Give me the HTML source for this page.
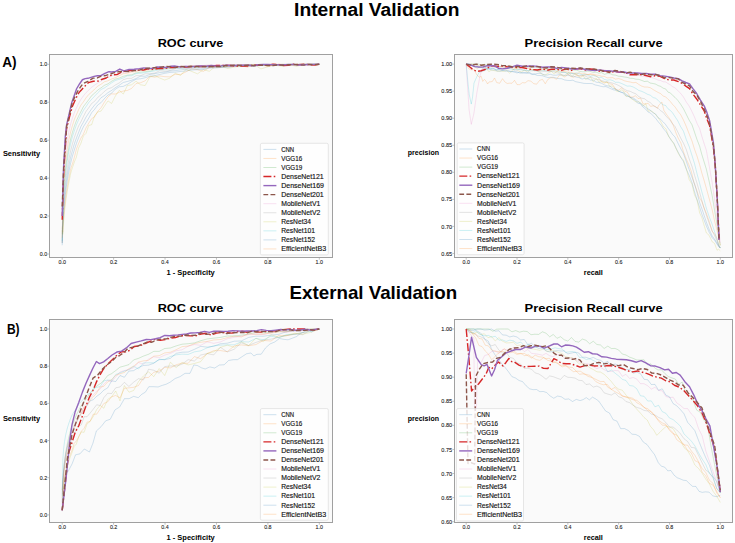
<!DOCTYPE html>
<html><head><meta charset="utf-8"><style>
html,body{margin:0;padding:0;background:#fff;}
body{width:735px;height:543px;overflow:hidden;font-family:"Liberation Sans",sans-serif;}
svg{display:block;}
</style></head><body>
<svg width="735" height="543" viewBox="0 0 735 543">
<rect width="735" height="543" fill="#ffffff"/>
<text x="294.10" y="15.80" font-family="Liberation Sans" font-size="18.8" font-weight="bold" text-anchor="start" fill="#000" textLength="165.5" lengthAdjust="spacingAndGlyphs">Internal Validation</text>
<text x="289.60" y="299.40" font-family="Liberation Sans" font-size="18.2" font-weight="bold" text-anchor="start" fill="#000" textLength="167.6" lengthAdjust="spacingAndGlyphs">External Validation</text>
<text x="2.20" y="66.50" font-family="Liberation Sans" font-size="14.2" font-weight="bold" text-anchor="start" fill="#000" textLength="14.4" lengthAdjust="spacingAndGlyphs">A)</text>
<text x="6.90" y="333.80" font-family="Liberation Sans" font-size="14.8" font-weight="bold" text-anchor="start" fill="#000" textLength="12.7" lengthAdjust="spacingAndGlyphs">B)</text>
<defs>
<clipPath id="c_roc1"><rect x="49.5" y="54.5" width="283.0" height="203.0"/></clipPath>
<clipPath id="c_pr1"><rect x="454.5" y="54.5" width="278.0" height="203.0"/></clipPath>
<clipPath id="c_roc2"><rect x="49.5" y="319.5" width="283.0" height="203.0"/></clipPath>
<clipPath id="c_pr2"><rect x="454.5" y="319.5" width="278.0" height="203.0"/></clipPath>
</defs>
<rect x="49.5" y="54.5" width="283.0" height="203.0" fill="#fafafa"/>
<rect x="454.5" y="54.5" width="278.0" height="203.0" fill="#fafafa"/>
<rect x="49.5" y="319.5" width="283.0" height="203.0" fill="#fafafa"/>
<rect x="454.5" y="319.5" width="278.0" height="203.0" fill="#fafafa"/>
<text x="157.70" y="47.40" font-family="Liberation Sans" font-size="11.0" font-weight="bold" text-anchor="start" fill="#000" textLength="65.6" lengthAdjust="spacingAndGlyphs">ROC curve</text>
<text x="524.50" y="47.40" font-family="Liberation Sans" font-size="11.0" font-weight="bold" text-anchor="start" fill="#000" textLength="138.2" lengthAdjust="spacingAndGlyphs">Precision Recall curve</text>
<text x="157.70" y="312.00" font-family="Liberation Sans" font-size="11.0" font-weight="bold" text-anchor="start" fill="#000" textLength="65.6" lengthAdjust="spacingAndGlyphs">ROC curve</text>
<text x="524.50" y="312.00" font-family="Liberation Sans" font-size="11.0" font-weight="bold" text-anchor="start" fill="#000" textLength="138.2" lengthAdjust="spacingAndGlyphs">Precision Recall curve</text>
<polyline points="62.20,245.25 62.76,228.87 63.37,217.13 64.16,206.33 65.13,196.37 66.27,187.16 67.58,178.63 69.04,170.68 70.65,163.07 72.42,156.12 74.33,149.90 76.39,143.55 78.59,137.77 80.93,132.07 83.40,126.72 86.01,122.65 88.76,118.18 91.64,112.73 94.65,109.25 97.79,104.91 101.05,102.67 104.45,98.59 107.97,94.99 111.61,93.16 115.38,89.07 119.27,86.80 123.28,86.36 127.41,84.36 131.66,81.59 136.03,79.25 140.52,78.78 145.13,77.74 149.85,76.20 154.69,75.77 159.64,74.49 164.71,73.30 169.89,72.44 175.19,72.11 180.60,71.47 186.12,70.88 191.75,70.00 197.49,69.70 203.35,69.54 209.31,68.08 215.38,67.98 221.57,67.48 227.86,67.60 234.25,66.39 240.76,66.21 247.37,66.62 254.09,66.12 260.92,65.51 267.85,65.28 274.89,64.89 282.03,65.07 289.27,64.62 296.63,64.57 304.08,64.62 311.64,64.40 319.30,64.30" fill="none" stroke="#1f77b4" stroke-width="0.9" stroke-opacity="0.22" stroke-linejoin="round" clip-path="url(#c_roc1)"/>
<polyline points="62.20,226.55 62.76,232.26 63.37,221.54 64.16,211.47 65.13,202.05 66.27,193.23 67.58,184.97 69.04,177.20 70.65,169.05 72.42,163.91 74.33,157.45 76.39,149.22 78.59,143.53 80.93,138.10 83.40,134.19 86.01,127.92 88.76,123.12 91.64,118.71 94.65,116.81 97.79,111.30 101.05,107.81 104.45,102.09 107.97,96.77 111.61,93.87 115.38,94.09 119.27,92.22 123.28,91.07 127.41,90.44 131.66,88.37 136.03,83.52 140.52,82.77 145.13,80.81 149.85,76.26 154.69,77.24 159.64,75.90 164.71,76.69 169.89,76.87 175.19,74.32 180.60,74.48 186.12,71.80 191.75,68.72 197.49,69.69 203.35,71.38 209.31,67.57 215.38,67.51 221.57,67.31 227.86,66.18 234.25,66.36 240.76,65.90 247.37,67.10 254.09,64.62 260.92,64.44 267.85,66.62 274.89,64.63 282.03,64.54 289.27,64.97 296.63,64.63 304.08,64.54 311.64,64.39 319.30,64.30" fill="none" stroke="#ff7f0e" stroke-width="0.9" stroke-opacity="0.22" stroke-linejoin="round" clip-path="url(#c_roc1)"/>
<polyline points="62.20,242.89 62.76,213.27 63.37,197.95 64.16,184.82 65.13,173.37 66.27,163.27 67.58,154.30 69.04,146.25 70.65,138.96 72.42,132.43 74.33,126.31 76.39,120.79 78.59,116.11 80.93,111.56 83.40,106.69 86.01,103.26 88.76,99.71 91.64,95.65 94.65,93.16 97.79,89.96 101.05,87.84 104.45,85.30 107.97,83.84 111.61,81.24 115.38,79.16 119.27,78.07 123.28,76.34 127.41,75.15 131.66,74.76 136.03,72.86 140.52,72.13 145.13,71.63 149.85,71.17 154.69,69.60 159.64,69.42 164.71,68.64 169.89,68.01 175.19,67.75 180.60,67.18 186.12,67.29 191.75,66.62 197.49,66.62 203.35,65.97 209.31,65.77 215.38,66.11 221.57,65.86 227.86,65.61 234.25,64.97 240.76,65.14 247.37,64.89 254.09,64.94 260.92,64.73 267.85,64.69 274.89,64.62 282.03,64.45 289.27,64.40 296.63,64.30 304.08,64.30 311.64,64.31 319.30,64.30" fill="none" stroke="#2ca02c" stroke-width="0.9" stroke-opacity="0.22" stroke-linejoin="round" clip-path="url(#c_roc1)"/>
<polyline points="62.20,242.94 62.76,200.57 63.37,183.34 64.16,169.24 65.13,157.39 66.27,147.26 67.58,138.50 69.04,130.82 70.65,124.13 72.42,118.05 74.33,112.75 76.39,107.97 78.59,103.52 80.93,99.40 83.40,95.90 86.01,92.70 88.76,90.09 91.64,87.29 94.65,85.07 97.79,83.00 101.05,81.11 104.45,79.28 107.97,77.17 111.61,75.80 115.38,74.53 119.27,73.39 123.28,72.81 127.41,71.80 131.66,70.74 136.03,69.94 140.52,69.21 145.13,68.62 149.85,68.58 154.69,67.81 159.64,67.36 164.71,67.09 169.89,66.93 175.19,66.48 180.60,66.41 186.12,65.78 191.75,65.60 197.49,65.55 203.35,65.48 209.31,65.09 215.38,65.08 221.57,64.85 227.86,64.76 234.25,64.77 240.76,64.71 247.37,64.59 254.09,64.57 260.92,64.57 267.85,64.49 274.89,64.34 282.03,64.45 289.27,64.42 296.63,64.31 304.08,64.34 311.64,64.30 319.30,64.30" fill="none" stroke="#e377c2" stroke-width="0.9" stroke-opacity="0.22" stroke-linejoin="round" clip-path="url(#c_roc1)"/>
<polyline points="62.20,234.13 62.76,221.67 63.37,208.08 64.16,196.01 65.13,185.19 66.27,175.43 67.58,166.56 69.04,158.46 70.65,150.86 72.42,143.93 74.33,137.41 76.39,131.65 78.59,125.94 80.93,121.82 83.40,116.57 86.01,111.48 88.76,107.75 91.64,103.50 94.65,101.27 97.79,97.36 101.05,94.77 104.45,91.37 107.97,88.72 111.61,87.64 115.38,85.02 119.27,82.90 123.28,79.71 127.41,78.44 131.66,78.24 136.03,75.63 140.52,75.74 145.13,73.76 149.85,73.71 154.69,73.05 159.64,70.79 164.71,71.21 169.89,70.57 175.19,68.81 180.60,68.49 186.12,68.90 191.75,67.51 197.49,67.71 203.35,67.15 209.31,67.42 215.38,66.18 221.57,66.20 227.86,65.62 234.25,65.47 240.76,65.88 247.37,65.60 254.09,65.58 260.92,65.40 267.85,65.29 274.89,64.95 282.03,64.60 289.27,64.88 296.63,64.37 304.08,64.47 311.64,64.34 319.30,64.30" fill="none" stroke="#7f7f7f" stroke-width="0.9" stroke-opacity="0.22" stroke-linejoin="round" clip-path="url(#c_roc1)"/>
<polyline points="62.20,230.25 62.76,234.46 63.37,224.45 64.16,214.92 65.13,205.91 66.27,197.39 67.58,189.35 69.04,181.73 70.65,173.56 72.42,167.66 74.33,162.01 76.39,157.09 78.59,147.96 80.93,143.28 83.40,135.98 86.01,133.37 88.76,125.43 91.64,124.74 94.65,115.65 97.79,111.94 101.05,111.08 104.45,106.05 107.97,100.88 111.61,103.45 115.38,96.05 119.27,90.27 123.28,94.07 127.41,85.55 131.66,84.78 136.03,81.16 140.52,84.78 145.13,85.57 149.85,77.01 154.69,75.72 159.64,77.96 164.71,80.07 169.89,78.07 175.19,73.31 180.60,75.42 186.12,69.16 191.75,71.45 197.49,73.82 203.35,69.66 209.31,71.25 215.38,66.55 221.57,66.26 227.86,68.48 234.25,67.15 240.76,66.39 247.37,65.37 254.09,64.30 260.92,68.95 267.85,66.75 274.89,65.23 282.03,66.29 289.27,64.77 296.63,66.39 304.08,64.30 311.64,64.46 319.30,64.30" fill="none" stroke="#bcbd22" stroke-width="0.9" stroke-opacity="0.22" stroke-linejoin="round" clip-path="url(#c_roc1)"/>
<polyline points="62.20,240.94 62.76,216.63 63.37,201.96 64.16,189.20 65.13,177.96 66.27,167.97 67.58,159.00 69.04,150.90 70.65,143.67 72.42,136.73 74.33,130.85 76.39,124.92 78.59,119.79 80.93,115.19 83.40,110.38 86.01,106.66 88.76,102.50 91.64,99.35 94.65,96.11 97.79,92.75 101.05,89.51 104.45,87.90 107.97,85.49 111.61,82.83 115.38,80.45 119.27,79.28 123.28,77.98 127.41,75.80 131.66,75.76 136.03,73.61 140.52,73.30 145.13,72.57 149.85,71.78 154.69,70.85 159.64,69.66 164.71,69.76 169.89,68.84 175.19,68.33 180.60,68.16 186.12,67.62 191.75,67.70 197.49,67.37 203.35,66.94 209.31,66.28 215.38,66.22 221.57,66.06 227.86,65.65 234.25,65.55 240.76,65.46 247.37,64.99 254.09,64.91 260.92,65.02 267.85,64.73 274.89,64.65 282.03,64.41 289.27,64.40 296.63,64.49 304.08,64.30 311.64,64.33 319.30,64.30" fill="none" stroke="#17becf" stroke-width="0.9" stroke-opacity="0.22" stroke-linejoin="round" clip-path="url(#c_roc1)"/>
<polyline points="62.20,243.15 62.76,225.59 63.37,212.96 64.16,201.53 65.13,191.14 66.27,181.64 67.58,172.92 69.04,164.87 70.65,157.22 72.42,150.64 74.33,143.87 76.39,138.19 78.59,132.43 80.93,126.54 83.40,122.20 86.01,117.14 88.76,112.94 91.64,108.86 94.65,105.00 97.79,101.83 101.05,97.68 104.45,95.66 107.97,92.65 111.61,90.41 115.38,87.63 119.27,85.22 123.28,82.48 127.41,81.46 131.66,80.20 136.03,78.51 140.52,76.18 145.13,76.22 149.85,74.42 154.69,73.76 159.64,72.55 164.71,72.16 169.89,71.05 175.19,70.63 180.60,69.89 186.12,69.10 191.75,68.94 197.49,68.91 203.35,68.54 209.31,67.32 215.38,67.35 221.57,67.25 227.86,66.30 234.25,66.30 240.76,65.91 247.37,65.55 254.09,65.72 260.92,65.45 267.85,64.93 274.89,65.18 282.03,64.68 289.27,64.86 296.63,64.47 304.08,64.37 311.64,64.36 319.30,64.30" fill="none" stroke="#1f77b4" stroke-width="0.9" stroke-opacity="0.22" stroke-linejoin="round" clip-path="url(#c_roc1)"/>
<polyline points="62.20,237.77 62.76,207.52 63.37,191.23 64.16,177.58 65.13,165.88 66.27,155.71 67.58,146.78 69.04,138.86 70.65,131.84 72.42,125.62 74.33,119.45 76.39,114.81 78.59,109.73 80.93,105.07 83.40,101.89 86.01,97.84 88.76,94.49 91.64,92.18 94.65,89.05 97.79,86.13 101.05,84.22 104.45,81.75 107.97,80.78 111.61,78.99 115.38,77.68 119.27,75.65 123.28,73.76 127.41,73.19 131.66,71.94 136.03,71.63 140.52,70.35 145.13,70.51 149.85,69.63 154.69,68.60 159.64,68.05 164.71,67.98 169.89,67.95 175.19,67.39 180.60,67.13 186.12,66.76 191.75,65.99 197.49,66.33 203.35,65.49 209.31,65.31 215.38,65.82 221.57,65.39 227.86,65.15 234.25,65.35 240.76,64.95 247.37,64.53 254.09,64.93 260.92,64.56 267.85,64.74 274.89,64.44 282.03,64.30 289.27,64.50 296.63,64.51 304.08,64.44 311.64,64.31 319.30,64.30" fill="none" stroke="#ff7f0e" stroke-width="0.9" stroke-opacity="0.22" stroke-linejoin="round" clip-path="url(#c_roc1)"/>
<polyline points="62.20,219.85 63.74,170.60 66.57,128.71 69.53,116.77 72.48,106.09 77.63,94.64 80.20,91.20 82.77,88.49 85.60,85.43 88.42,82.69 93.31,81.21 98.19,81.04 102.18,79.21 106.16,78.01 109.76,75.78 113.36,74.82 116.96,74.67 121.72,72.01 126.48,70.80 130.76,70.64 135.05,70.07 139.33,70.13 143.62,70.03 147.90,68.94 152.19,69.33 156.47,68.82 160.76,68.42 165.04,68.43 170.18,67.62 175.32,67.50 180.47,66.74 185.61,67.08 190.75,66.74 195.89,66.80 201.03,66.41 206.18,66.57 211.32,66.69 216.46,65.44 221.13,65.34 225.81,65.47 230.48,65.57 235.16,66.06 239.83,66.09 244.51,65.90 249.18,66.12 253.86,64.97 258.53,65.42 263.21,64.64 267.88,65.23 273.02,64.30 278.16,64.38 283.31,65.59 288.45,65.20 293.59,64.30 298.73,64.65 303.87,64.30 309.02,64.61 314.16,65.02 319.30,64.30" fill="none" stroke="#d62728" stroke-width="1.4" stroke-dasharray="8,2.3,1.6,2.3" stroke-linejoin="round" clip-path="url(#c_roc1)"/>
<polyline points="62.20,216.06 63.49,168.66 65.29,136.21 66.57,124.81 71.71,102.65 76.60,88.76 79.50,83.98 82.41,79.73 85.16,78.65 87.91,78.31 91.00,77.37 94.08,76.37 97.42,75.69 100.77,75.71 104.88,73.38 108.99,71.70 111.56,72.00 115.68,71.44 119.79,69.06 123.90,70.85 129.05,69.53 134.19,69.29 139.33,68.58 143.83,67.85 148.33,68.55 152.83,68.26 157.33,67.05 161.83,67.28 166.33,67.52 170.82,66.26 175.32,66.07 180.47,66.90 185.61,66.43 190.75,66.64 195.89,66.32 201.03,65.85 206.18,66.25 211.32,65.52 216.46,66.14 221.13,65.93 225.81,65.13 230.48,65.53 235.16,65.44 239.83,65.17 244.51,65.24 249.18,65.28 253.86,65.61 258.53,64.75 263.21,64.41 267.88,64.33 273.02,64.63 278.16,64.92 283.31,64.85 288.45,64.43 293.59,64.39 298.73,64.97 303.87,64.77 309.02,64.57 314.16,64.34 319.30,64.30" fill="none" stroke="#9467bd" stroke-width="1.4" stroke-linejoin="round" clip-path="url(#c_roc1)"/>
<polyline points="62.20,206.57 63.74,167.10 66.57,126.62 69.53,114.29 72.48,101.71 77.63,91.33 80.20,87.47 82.77,83.81 87.91,81.32 93.05,78.17 97.17,77.95 101.28,76.20 105.39,75.55 109.51,74.29 113.62,72.94 118.76,71.68 123.90,71.38 129.05,71.64 134.19,70.60 139.33,70.15 143.62,68.64 147.90,68.32 152.19,67.91 156.47,67.47 160.76,67.19 165.04,66.46 170.18,66.60 175.32,67.33 180.47,66.33 185.61,66.79 190.75,66.28 195.89,66.48 201.03,66.59 206.18,66.59 211.32,66.40 216.46,66.48 221.13,66.67 225.81,65.50 230.48,65.43 235.16,65.05 239.83,65.39 244.51,65.49 249.18,65.10 253.86,65.92 258.53,65.00 263.21,65.25 267.88,65.55 273.02,65.43 278.16,64.87 283.31,65.21 288.45,64.82 293.59,64.52 298.73,64.76 303.87,65.09 309.02,64.47 314.16,64.78 319.30,64.30" fill="none" stroke="#8c564b" stroke-width="1.4" stroke-dasharray="4.8,2.3" stroke-linejoin="round" clip-path="url(#c_roc1)"/>
<polyline points="62.20,488.88 62.86,491.61 63.57,483.83 64.50,476.91 65.63,470.61 66.97,464.76 68.49,459.29 70.20,454.69 72.09,450.13 74.15,443.45 76.39,440.94 78.79,436.99 81.37,431.19 84.10,428.35 87.00,422.20 90.05,421.52 93.26,414.16 96.63,414.21 100.15,409.12 103.82,403.49 107.64,401.92 111.61,396.80 115.73,395.46 119.99,397.91 124.39,388.30 128.94,387.85 133.63,387.31 138.47,385.55 143.44,377.90 148.55,377.39 153.80,372.30 159.19,371.10 164.71,367.43 170.37,367.92 176.17,364.74 182.09,363.12 188.15,363.30 194.35,356.61 200.67,358.68 207.13,353.70 213.72,350.69 220.43,350.59 227.28,351.63 234.25,345.88 241.36,344.95 248.59,345.72 255.94,344.58 263.43,340.42 271.03,341.05 278.77,335.37 286.63,335.58 294.61,333.94 302.72,332.72 310.95,330.37 319.30,329.00" fill="none" stroke="#ff7f0e" stroke-width="0.9" stroke-opacity="0.22" stroke-linejoin="round" clip-path="url(#c_roc2)"/>
<polyline points="62.20,489.62 62.86,482.09 63.57,471.13 64.50,461.60 65.63,453.12 66.97,445.44 68.49,438.41 70.20,431.61 72.09,425.57 74.15,420.75 76.39,414.95 78.79,410.24 81.37,405.45 84.10,401.78 87.00,397.60 90.05,393.19 93.26,390.02 96.63,385.94 100.15,383.82 103.82,380.55 107.64,375.57 111.61,373.64 115.73,370.57 119.99,367.18 124.39,365.98 128.94,364.60 133.63,359.91 138.47,358.39 143.44,356.11 148.55,354.26 153.80,351.34 159.19,351.37 164.71,348.52 170.37,348.01 176.17,345.90 182.09,344.20 188.15,343.71 194.35,342.95 200.67,340.72 207.13,338.96 213.72,338.14 220.43,337.41 227.28,336.00 234.25,336.01 241.36,335.11 248.59,334.00 255.94,332.36 263.43,332.71 271.03,332.16 278.77,331.55 286.63,331.04 294.61,330.24 302.72,329.50 310.95,329.00 319.30,329.00" fill="none" stroke="#2ca02c" stroke-width="0.9" stroke-opacity="0.22" stroke-linejoin="round" clip-path="url(#c_roc2)"/>
<polyline points="62.20,494.36 62.86,482.58 63.57,472.39 64.50,463.59 65.63,455.74 66.97,448.64 68.49,442.12 70.20,435.75 72.09,430.85 74.15,424.50 76.39,420.77 78.79,415.26 81.37,412.06 84.10,406.35 87.00,403.95 90.05,398.58 93.26,394.85 96.63,391.17 100.15,389.06 103.82,384.12 107.64,380.43 111.61,381.59 115.73,376.86 119.99,372.04 124.39,370.56 128.94,369.50 133.63,367.76 138.47,362.53 143.44,364.23 148.55,359.15 153.80,356.79 159.19,357.74 164.71,355.15 170.37,353.42 176.17,350.74 182.09,349.75 188.15,346.18 194.35,344.57 200.67,345.30 207.13,341.88 213.72,343.33 220.43,341.91 227.28,338.85 234.25,337.29 241.36,336.15 248.59,334.64 255.94,334.04 263.43,334.63 271.03,332.56 278.77,331.35 286.63,332.34 294.61,330.79 302.72,330.66 310.95,329.96 319.30,329.00" fill="none" stroke="#e377c2" stroke-width="0.9" stroke-opacity="0.22" stroke-linejoin="round" clip-path="url(#c_roc2)"/>
<polyline points="62.20,501.84 62.86,483.53 63.57,474.86 64.50,467.44 65.63,460.84 66.97,454.86 68.49,449.36 70.20,443.39 72.09,438.61 74.15,435.77 76.39,429.37 78.79,426.03 81.37,424.75 84.10,416.65 87.00,416.78 90.05,413.18 93.26,409.17 96.63,404.77 100.15,405.48 103.82,397.69 107.64,393.26 111.61,393.54 115.73,387.79 119.99,386.97 124.39,382.33 128.94,386.48 133.63,382.19 138.47,378.68 143.44,379.95 148.55,369.20 153.80,370.27 159.19,373.19 164.71,366.53 170.37,366.01 176.17,365.99 182.09,364.21 188.15,359.64 194.35,361.04 200.67,355.02 207.13,353.61 213.72,354.90 220.43,347.29 227.28,351.95 234.25,349.20 241.36,342.87 248.59,345.44 255.94,342.41 263.43,339.95 271.03,339.17 278.77,337.27 286.63,335.68 294.61,334.27 302.72,334.66 310.95,329.82 319.30,329.00" fill="none" stroke="#7f7f7f" stroke-width="0.9" stroke-opacity="0.22" stroke-linejoin="round" clip-path="url(#c_roc2)"/>
<polyline points="62.20,493.58 62.86,493.97 63.57,486.39 64.50,479.55 65.63,473.24 66.97,467.34 68.49,461.79 70.20,457.29 72.09,452.44 74.15,446.33 76.39,444.07 78.79,436.27 81.37,431.88 84.10,432.32 87.00,423.98 90.05,421.46 93.26,416.53 96.63,409.66 100.15,405.39 103.82,408.25 107.64,399.56 111.61,396.79 115.73,390.99 119.99,400.82 124.39,385.56 128.94,392.19 133.63,390.50 138.47,381.66 143.44,375.93 148.55,371.89 153.80,376.65 159.19,368.54 164.71,375.57 170.37,362.20 176.17,367.65 182.09,362.53 188.15,364.90 194.35,363.50 200.67,361.65 207.13,353.39 213.72,351.79 220.43,347.36 227.28,345.19 234.25,347.34 241.36,341.73 248.59,345.59 255.94,338.17 263.43,341.58 271.03,334.69 278.77,337.21 286.63,335.33 294.61,333.25 302.72,334.26 310.95,332.34 319.30,329.00" fill="none" stroke="#bcbd22" stroke-width="0.9" stroke-opacity="0.22" stroke-linejoin="round" clip-path="url(#c_roc2)"/>
<polyline points="62.20,495.79 62.86,459.44 63.57,449.64 64.50,441.80 65.63,435.19 66.97,429.43 68.49,424.29 70.20,419.45 72.09,414.86 74.15,411.86 76.39,408.48 78.79,403.77 81.37,401.49 84.10,398.40 87.00,394.38 90.05,393.38 93.26,388.52 96.63,387.36 100.15,386.57 103.82,380.89 107.64,380.07 111.61,380.28 115.73,374.53 119.99,372.86 124.39,371.11 128.94,369.65 133.63,366.27 138.47,369.06 143.44,362.94 148.55,362.79 153.80,362.89 159.19,359.73 164.71,359.37 170.37,356.53 176.17,354.84 182.09,354.15 188.15,354.45 194.35,351.88 200.67,350.87 207.13,347.82 213.72,345.86 220.43,345.17 227.28,344.80 234.25,344.81 241.36,341.73 248.59,341.99 255.94,338.42 263.43,339.81 271.03,336.22 278.77,337.78 286.63,334.44 294.61,334.34 302.72,332.49 310.95,331.40 319.30,329.00" fill="none" stroke="#17becf" stroke-width="0.9" stroke-opacity="0.22" stroke-linejoin="round" clip-path="url(#c_roc2)"/>
<polyline points="62.20,507.73 62.86,480.63 63.57,470.82 64.50,462.43 65.63,455.03 66.97,448.34 68.49,442.23 70.20,436.94 72.09,431.20 74.15,426.85 76.39,422.37 78.79,417.44 81.37,413.40 84.10,409.98 87.00,405.81 90.05,400.88 93.26,399.72 96.63,396.34 100.15,393.91 103.82,390.12 107.64,387.96 111.61,380.89 115.73,381.52 119.99,375.53 124.39,377.27 128.94,371.08 133.63,370.65 138.47,367.52 143.44,365.48 148.55,365.14 153.80,363.24 159.19,359.29 164.71,359.73 170.37,358.34 176.17,353.39 182.09,352.23 188.15,352.03 194.35,349.38 200.67,346.35 207.13,347.16 213.72,346.22 220.43,343.75 227.28,343.20 234.25,341.18 241.36,340.94 248.59,337.43 255.94,336.15 263.43,336.24 271.03,335.10 278.77,334.32 286.63,331.66 294.61,330.94 302.72,330.50 310.95,330.40 319.30,329.00" fill="none" stroke="#1f77b4" stroke-width="0.9" stroke-opacity="0.22" stroke-linejoin="round" clip-path="url(#c_roc2)"/>
<polyline points="62.20,498.03 62.86,486.69 63.57,476.64 64.50,467.75 65.63,459.72 66.97,452.36 68.49,445.55 70.20,439.37 72.09,432.88 74.15,428.02 76.39,422.45 78.79,417.81 81.37,412.98 84.10,407.17 87.00,405.17 90.05,400.21 93.26,397.09 96.63,393.04 100.15,387.03 103.82,386.34 107.64,381.92 111.61,379.72 115.73,375.25 119.99,373.82 124.39,372.43 128.94,368.58 133.63,366.21 138.47,362.10 143.44,360.86 148.55,360.26 153.80,356.14 159.19,355.70 164.71,352.91 170.37,352.22 176.17,349.71 182.09,346.63 188.15,346.05 194.35,343.69 200.67,342.25 207.13,341.46 213.72,339.97 220.43,339.52 227.28,337.67 234.25,336.11 241.36,336.96 248.59,333.72 255.94,334.28 263.43,333.94 271.03,333.07 278.77,331.89 286.63,331.70 294.61,330.47 302.72,329.89 310.95,329.15 319.30,329.00" fill="none" stroke="#ff7f0e" stroke-width="0.9" stroke-opacity="0.22" stroke-linejoin="round" clip-path="url(#c_roc2)"/>
<polyline points="62.20,511.18 65.03,475.86 68.54,470.62 72.06,463.94 75.57,454.77 79.94,453.87 84.31,448.99 86.88,450.46 89.45,452.02 92.92,443.25 96.39,430.95 101.02,426.78 105.65,420.83 110.28,419.24 114.99,409.90 119.70,406.93 124.42,398.66 129.05,398.69 133.67,396.35 138.30,397.66 141.82,394.23 145.33,392.19 148.84,386.71 153.47,386.69 158.10,386.98 162.13,385.42 166.15,384.22 170.18,382.17 175.13,378.50 180.08,376.64 185.03,373.32 189.98,373.33 193.84,364.92 197.61,365.63 201.38,367.77 205.15,368.99 209.90,366.92 214.66,368.06 219.42,365.02 224.17,364.77 228.63,360.49 233.09,359.72 237.54,359.65 242.00,356.72 246.46,353.81 250.91,352.97 253.87,355.97 256.82,354.33 261.20,354.20 265.57,347.86 269.94,343.97 274.69,342.01 279.45,338.50 283.76,339.34 288.06,339.80 292.37,338.17 296.68,336.48 300.27,333.49 303.87,332.03 307.73,329.29 311.59,332.03 315.44,329.67 319.30,329.00" fill="none" stroke="#1f77b4" stroke-width="0.9" stroke-opacity="0.22" stroke-linejoin="round" clip-path="url(#c_roc2)"/>
<polyline points="62.20,510.25 65.41,482.43 68.63,453.30 71.84,443.01 75.06,432.69 78.91,425.36 82.13,416.68 85.34,407.68 89.20,397.67 93.05,390.20 96.48,381.88 99.91,375.05 103.34,369.22 108.05,363.68 112.76,359.23 117.48,354.66 121.64,351.61 125.81,351.88 129.97,350.30 134.14,346.50 138.30,345.95 142.24,344.85 146.19,343.01 150.13,341.38 155.21,339.37 160.28,340.34 165.36,339.62 170.44,338.11 175.52,337.49 180.59,335.89 185.67,335.45 190.75,335.83 195.89,335.80 201.03,334.01 206.18,333.30 211.32,335.07 216.46,333.12 221.60,332.45 226.74,332.57 231.89,333.16 237.03,331.50 242.17,331.28 246.99,332.30 251.81,331.13 256.63,331.89 261.45,332.11 266.27,331.28 271.09,331.11 275.91,330.80 280.74,330.07 285.56,329.47 290.38,329.02 295.20,329.00 300.02,329.00 304.84,329.00 309.66,329.78 314.48,329.90 319.30,329.00" fill="none" stroke="#d62728" stroke-width="1.4" stroke-dasharray="8,2.3,1.6,2.3" stroke-linejoin="round" clip-path="url(#c_roc2)"/>
<polyline points="62.20,510.25 66.06,478.35 70.17,437.25 71.97,424.85 75.06,412.06 78.74,402.56 82.43,392.13 86.11,382.95 89.54,375.40 92.97,367.96 96.39,361.50 99.48,363.66 103.59,361.89 107.84,358.56 112.08,355.02 116.83,352.04 121.59,351.12 126.35,347.95 131.10,343.53 136.16,342.12 141.22,340.89 146.27,339.48 150.90,339.59 155.53,338.77 160.16,337.71 164.78,335.43 169.41,335.71 173.70,335.18 177.98,334.92 182.27,334.41 186.55,333.96 190.84,333.03 195.12,332.85 199.83,332.48 204.53,331.41 209.24,332.39 213.94,331.28 218.65,331.25 223.35,331.35 228.06,331.19 232.76,330.75 237.47,330.88 242.17,331.26 246.99,331.00 251.81,331.01 256.63,330.66 261.45,329.67 266.27,330.39 271.09,330.80 275.91,330.08 280.74,329.46 285.56,329.89 290.38,329.40 295.20,330.19 300.02,330.12 304.84,329.11 309.66,329.90 314.48,329.41 319.30,329.00" fill="none" stroke="#9467bd" stroke-width="1.4" stroke-linejoin="round" clip-path="url(#c_roc2)"/>
<polyline points="62.20,510.25 67.34,458.97 71.97,434.67 76.08,422.17 80.20,411.29 84.48,399.86 88.77,388.73 93.05,378.10 97.68,375.06 102.31,369.37 106.94,364.80 111.15,361.90 115.37,357.70 119.58,355.52 123.80,352.55 128.02,348.27 132.77,347.15 137.53,346.08 142.29,344.25 147.04,342.02 151.90,342.18 156.76,340.12 161.61,339.01 166.47,338.87 171.32,337.11 176.18,336.10 181.04,336.11 185.89,335.00 190.75,335.43 195.89,335.29 201.03,332.95 206.18,334.22 211.32,334.10 216.46,332.30 221.60,332.35 226.74,333.47 231.89,332.74 237.03,332.64 242.17,332.30 246.99,332.72 251.81,331.38 256.63,331.70 261.45,331.33 266.27,331.62 271.09,331.61 275.91,331.61 280.74,329.56 285.56,329.67 290.38,329.91 295.20,330.71 300.02,330.48 304.84,330.37 309.66,329.76 314.48,330.16 319.30,329.00" fill="none" stroke="#8c564b" stroke-width="1.4" stroke-dasharray="4.8,2.3" stroke-linejoin="round" clip-path="url(#c_roc2)"/>
<polyline points="466.20,64.10 468.40,64.10 470.59,64.37 472.79,64.97 475.14,66.80 477.49,66.51 479.85,67.30 482.20,67.66 484.55,68.76 486.90,69.11 489.26,69.15 491.61,69.96 494.43,69.94 497.26,70.99 500.08,71.24 502.90,70.48 505.73,71.21 508.55,71.31 511.37,71.25 514.20,72.15 517.02,72.93 519.51,72.09 522.00,72.74 524.48,72.96 526.97,73.39 529.46,73.20 531.95,74.56 534.57,74.33 537.19,75.38 539.81,75.47 542.43,75.74 545.17,76.72 547.91,77.52 550.66,77.31 553.40,77.33 556.14,77.96 558.88,78.61 561.66,78.73 564.44,79.92 567.23,80.36 570.01,80.57 572.79,80.20 575.57,81.65 578.35,82.22 581.13,82.75 583.91,83.36 586.69,83.49 589.47,83.52 592.25,83.63 595.03,84.93 597.75,85.46 600.48,86.18 603.20,86.75 605.92,86.57 608.62,87.73 611.32,88.99 614.02,90.02 616.84,90.24 619.65,91.67 622.47,92.78 624.97,95.16 627.46,96.09 629.96,96.90 632.45,98.85 635.04,100.09 637.62,103.17 640.20,103.67 642.79,106.98 645.36,108.84 647.94,111.92 650.51,113.09 653.09,115.73 655.70,118.45 658.30,121.91 660.90,124.87 663.51,128.72 666.11,131.80 668.70,136.01 671.30,140.48 673.90,143.28 676.29,148.61 678.68,153.26 681.07,157.81 683.46,161.54 686.29,169.24 689.13,175.31 691.96,182.55 694.52,191.73 697.08,199.90 699.64,207.20 701.87,214.17 704.10,219.94 706.32,225.89 709.24,232.41 712.16,237.75 714.58,240.18 717.01,244.12 718.65,246.29 720.30,248.04" fill="none" stroke="#1f77b4" stroke-width="0.9" stroke-opacity="0.22" stroke-linejoin="round" clip-path="url(#c_pr1)"/>
<polyline points="466.20,64.10 468.85,68.78 470.75,69.71 472.64,69.67 474.50,69.66 476.36,74.17 477.97,76.08 479.58,77.21 481.16,76.23 482.74,81.40 484.38,79.42 486.02,81.08 487.58,83.99 489.14,81.90 490.76,81.81 492.38,81.44 494.54,77.97 496.69,82.53 499.63,83.29 502.56,78.67 504.88,81.98 507.19,83.48 509.51,83.17 512.01,83.24 514.52,80.31 517.02,84.60 519.72,84.61 522.42,82.67 525.11,82.92 528.00,80.63 530.89,81.16 533.77,83.68 536.66,84.18 539.54,80.45 542.43,79.31 545.25,83.74 548.08,79.17 550.90,77.70 553.72,77.90 556.55,79.26 559.37,75.16 562.19,74.91 565.02,77.19 567.84,74.16 570.66,76.40 573.49,77.32 576.31,75.69 579.13,76.02 581.96,76.00 584.78,74.97 587.60,74.56 590.43,74.51 593.25,75.05 595.96,75.86 598.67,77.86 601.39,81.38 604.10,83.28 606.81,82.06 609.52,83.69 612.57,84.50 615.61,89.14 618.66,90.11 621.60,87.80 624.54,91.15 627.48,92.27 630.42,97.14 632.97,96.99 635.52,95.70 638.08,98.60 640.63,98.23 643.18,104.01 645.66,103.87 648.14,103.25 650.61,106.43 653.09,105.82 655.26,106.50 657.44,108.34 658.93,104.94 661.86,102.06 663.92,110.41 665.99,113.68 668.06,116.59 670.60,120.02 673.14,124.73 675.69,132.26 678.28,138.31 680.87,142.92 683.46,151.86 686.07,158.50 688.69,164.34 691.31,171.36 693.98,182.45 696.65,189.89 699.31,197.60 701.65,201.07 703.99,207.89 706.32,213.02 709.24,221.35 712.16,231.33 714.58,233.98 717.01,238.20 718.65,245.25 720.30,248.04" fill="none" stroke="#ff7f0e" stroke-width="0.9" stroke-opacity="0.22" stroke-linejoin="round" clip-path="url(#c_pr1)"/>
<polyline points="466.20,64.10 468.65,64.17 471.09,64.20 473.54,64.10 475.99,64.10 478.43,64.10 481.41,65.07 484.39,64.27 487.38,65.28 490.36,65.62 493.34,66.11 496.32,65.58 499.27,66.33 502.23,66.31 505.19,65.94 508.15,65.84 511.10,66.05 514.06,67.30 517.02,67.52 520.04,67.38 523.05,67.07 526.07,66.77 529.09,67.01 532.10,66.97 535.12,67.70 538.14,67.79 541.15,68.53 544.15,68.68 547.15,69.04 550.14,68.69 553.14,68.76 556.13,69.00 559.13,69.48 562.12,69.62 565.12,70.09 568.11,69.36 570.91,70.00 573.70,69.99 576.49,70.15 579.28,71.27 582.08,71.79 584.87,71.79 587.66,71.03 590.46,71.48 593.25,72.37 596.03,72.12 598.81,73.18 601.59,72.69 604.38,74.30 607.16,73.60 609.94,73.57 612.72,74.83 615.50,75.12 618.42,76.16 621.34,76.43 624.26,76.99 627.18,77.39 630.10,78.27 633.02,78.39 635.93,79.21 638.79,79.36 641.65,80.39 644.51,81.51 647.37,81.19 650.23,83.05 653.09,83.52 655.61,84.13 658.12,85.55 660.64,86.40 663.16,88.18 665.67,88.95 668.00,92.12 670.33,92.90 672.65,95.42 674.98,97.31 677.81,100.40 680.63,104.26 683.46,108.72 686.29,114.34 689.13,120.14 691.96,124.73 694.52,132.23 697.08,139.78 699.64,146.32 701.87,154.65 704.10,161.87 706.32,169.05 709.24,181.83 712.16,195.56 714.58,210.48 717.01,224.55 718.65,235.56 720.30,245.33" fill="none" stroke="#2ca02c" stroke-width="0.9" stroke-opacity="0.22" stroke-linejoin="round" clip-path="url(#c_pr1)"/>
<polyline points="466.20,64.10 467.38,83.47 469.12,109.93 471.28,124.37 473.87,113.64 476.88,92.62 478.53,83.93 480.18,75.09 482.34,68.64 484.79,66.53 487.06,67.21 489.34,66.18 491.61,66.01 494.41,67.15 497.22,67.36 500.02,67.15 502.83,65.98 505.63,66.30 508.26,65.88 510.89,65.89 513.52,66.51 516.15,66.80 518.77,67.65 521.40,67.82 524.03,66.65 526.66,66.97 529.29,66.93 531.92,67.36 534.54,67.29 537.17,67.45 539.80,67.14 542.43,68.52 545.20,67.94 547.97,68.28 550.73,67.47 553.50,67.44 556.27,68.49 559.04,68.81 561.80,68.59 564.57,68.53 567.34,67.84 570.11,68.47 572.87,67.97 575.64,68.75 578.58,68.57 581.51,69.30 584.45,68.73 587.38,69.13 590.32,68.74 593.25,68.78 596.16,69.76 599.07,70.78 601.98,69.65 604.89,69.92 607.80,70.97 610.71,71.23 613.62,70.79 616.29,72.24 618.96,72.58 621.64,72.21 624.31,72.59 626.98,72.92 629.65,73.04 632.32,73.89 634.99,74.39 638.01,75.36 641.03,76.03 644.04,76.42 647.06,76.97 650.07,77.13 653.09,77.97 655.61,79.00 658.12,80.07 660.64,80.52 663.16,81.77 665.67,81.95 668.00,83.55 670.33,84.82 672.65,86.70 674.98,87.81 677.81,90.57 680.63,93.27 683.46,97.05 686.29,102.01 689.13,106.04 691.96,111.58 694.52,117.14 697.08,123.53 699.64,128.59 701.87,136.41 704.10,143.51 706.32,150.19 709.24,166.05 712.16,182.63 714.58,199.71 717.01,218.16 718.65,229.47 720.30,242.63" fill="none" stroke="#e377c2" stroke-width="0.9" stroke-opacity="0.22" stroke-linejoin="round" clip-path="url(#c_pr1)"/>
<polyline points="466.20,64.10 468.65,65.15 471.09,65.25 473.54,65.06 475.99,64.84 478.43,65.99 481.41,66.35 484.39,66.47 487.38,65.94 490.36,67.24 493.34,66.60 496.32,67.04 499.27,68.21 502.23,67.88 505.19,68.34 508.15,68.71 511.10,68.07 514.06,69.86 517.02,70.29 520.04,69.02 523.05,70.12 526.07,70.68 529.09,70.69 532.10,70.86 535.12,70.12 538.14,71.56 541.15,71.77 544.15,71.41 547.15,71.70 550.14,71.28 553.14,71.70 556.13,72.72 559.13,73.20 562.12,72.40 565.12,72.39 568.11,74.18 570.91,73.50 573.70,73.75 576.49,74.57 579.28,75.74 582.08,75.27 584.87,75.85 587.66,77.19 590.46,76.93 593.25,78.08 596.03,79.27 598.81,79.69 601.59,80.60 604.38,81.40 607.16,81.90 609.94,82.49 612.72,83.19 615.50,84.07 618.42,85.37 621.34,87.03 624.26,89.15 627.18,90.69 630.10,91.29 633.02,92.75 635.93,93.87 638.79,96.57 641.65,98.16 644.51,98.73 647.37,101.00 650.23,102.60 653.09,105.33 655.61,106.94 658.12,108.22 660.64,110.74 663.16,112.29 665.67,115.69 668.00,118.20 670.33,120.57 672.65,124.08 674.98,126.45 677.81,132.03 680.63,137.96 683.46,143.20 686.29,149.51 689.13,158.66 691.96,166.28 694.52,175.11 697.08,183.54 699.64,192.36 701.87,200.52 704.10,208.04 706.32,215.11 709.24,223.45 712.16,230.81 714.58,235.68 717.01,240.91 718.65,245.33 720.30,248.04" fill="none" stroke="#7f7f7f" stroke-width="0.9" stroke-opacity="0.22" stroke-linejoin="round" clip-path="url(#c_pr1)"/>
<polyline points="466.20,64.10 469.02,65.55 471.85,64.10 474.67,66.87 477.49,68.60 480.32,65.99 483.14,66.76 485.96,67.54 488.79,71.65 491.61,70.01 494.62,70.70 497.63,71.21 500.64,70.95 503.66,71.48 506.67,70.43 509.65,73.20 512.63,70.25 515.61,68.17 518.59,70.97 521.57,71.97 524.55,70.07 527.53,72.11 530.51,69.26 533.49,69.59 536.47,70.22 539.45,71.96 542.43,74.77 545.38,74.88 548.33,73.13 551.28,71.32 554.23,74.07 557.17,71.07 560.12,73.48 563.07,76.42 566.02,74.41 568.97,72.47 571.92,76.51 574.87,74.02 577.82,75.34 580.39,78.03 582.96,75.58 585.53,79.37 588.11,78.59 590.68,77.28 593.25,81.69 596.18,78.30 599.11,82.10 602.03,81.56 604.96,82.61 607.33,82.04 609.69,86.39 612.05,85.84 614.42,87.92 616.75,91.36 619.08,91.30 621.41,89.89 623.74,91.62 626.20,96.59 628.66,95.93 631.11,98.57 633.57,100.22 636.00,101.86 638.42,101.83 640.85,102.82 643.27,105.91 645.73,103.68 648.18,111.14 650.64,110.85 653.09,111.94 655.67,114.67 658.25,117.76 660.83,121.71 663.41,126.85 666.02,128.88 668.63,136.60 671.24,139.66 673.85,144.08 676.25,149.02 678.65,154.08 681.05,157.60 683.46,160.01 686.29,168.45 689.13,179.52 691.96,184.02 694.52,195.05 697.08,199.99 699.64,212.83 701.87,217.73 704.10,225.30 706.32,232.86 709.24,235.51 712.16,241.82 714.58,243.40 717.01,250.21 718.65,249.24 720.30,250.74" fill="none" stroke="#bcbd22" stroke-width="0.9" stroke-opacity="0.22" stroke-linejoin="round" clip-path="url(#c_pr1)"/>
<polyline points="466.20,64.10 467.42,77.43 469.21,94.40 471.28,104.09 472.51,97.49 474.01,83.07 476.46,77.46 478.90,72.61 481.92,71.33 484.93,70.49 487.94,68.34 490.42,69.15 492.91,68.16 495.39,69.43 497.88,69.50 500.36,68.79 503.14,68.94 505.91,68.54 508.69,68.49 511.47,69.21 514.24,69.69 517.02,69.16 519.92,69.69 522.82,70.14 525.72,70.15 528.62,70.79 531.52,69.76 534.42,70.95 537.31,70.84 540.21,70.26 543.26,70.48 546.31,70.70 549.36,70.89 552.40,70.84 555.45,70.82 558.50,71.00 561.55,72.16 564.59,72.44 567.64,73.01 570.49,72.92 573.33,73.74 576.18,72.91 579.02,73.60 581.87,74.84 584.71,74.50 587.56,74.88 590.40,76.25 593.25,75.50 596.03,76.31 598.81,77.41 601.59,77.33 604.38,79.41 607.16,80.18 609.94,79.74 612.72,80.52 615.50,82.28 618.42,82.31 621.34,83.35 624.26,84.71 627.18,86.13 630.10,86.02 633.02,86.92 635.93,88.48 638.79,90.44 641.65,91.34 644.51,92.60 647.37,94.23 650.23,95.19 653.09,97.54 655.61,98.25 658.12,100.28 660.64,103.00 663.16,104.84 665.67,105.49 668.00,108.78 670.33,110.43 672.65,112.95 674.98,116.57 677.81,120.82 680.63,126.65 683.46,131.18 686.29,139.56 689.13,146.45 691.96,155.39 694.52,163.57 697.08,173.91 699.64,183.47 701.87,191.98 704.10,199.82 706.32,208.17 709.24,216.75 712.16,224.36 714.58,231.74 717.01,239.47 718.65,244.08 720.30,248.04" fill="none" stroke="#17becf" stroke-width="0.9" stroke-opacity="0.22" stroke-linejoin="round" clip-path="url(#c_pr1)"/>
<polyline points="466.20,64.10 468.65,64.89 471.09,64.96 473.54,66.04 475.99,66.04 478.43,66.90 481.41,67.50 484.39,67.56 487.38,68.33 490.36,68.51 493.34,68.31 496.32,69.96 499.27,69.44 502.23,70.66 505.19,70.02 508.15,70.54 511.10,71.83 514.06,71.22 517.02,71.86 520.04,73.13 523.05,72.82 526.07,72.57 529.09,72.44 532.10,73.89 535.12,73.99 538.14,73.36 541.15,73.29 544.15,74.90 547.15,75.11 550.14,74.24 553.14,75.15 556.13,75.24 559.13,74.64 562.12,75.06 565.12,75.40 568.11,75.27 570.91,75.98 573.70,76.35 576.49,77.12 579.28,77.70 582.08,79.06 584.87,78.18 587.66,78.67 590.46,80.07 593.25,80.12 596.03,82.18 598.81,82.46 601.59,83.32 604.38,84.92 607.16,85.79 609.94,86.17 612.72,88.36 615.50,88.92 618.42,91.11 621.34,92.22 624.26,93.01 627.18,95.04 630.10,97.58 633.02,97.83 635.93,99.75 638.79,102.01 641.65,104.43 644.51,106.45 647.37,108.68 650.23,110.01 653.09,112.98 655.61,113.96 658.12,117.76 660.64,119.35 663.16,121.86 665.67,124.64 668.00,128.08 670.33,131.13 672.65,134.62 674.98,136.89 677.81,142.84 680.63,148.46 683.46,153.64 686.29,161.42 689.13,169.48 691.96,177.18 694.52,184.15 697.08,192.85 699.64,202.57 701.87,208.63 704.10,215.25 706.32,221.97 709.24,229.63 712.16,235.83 714.58,239.32 717.01,242.88 718.65,246.22 720.30,248.04" fill="none" stroke="#1f77b4" stroke-width="0.9" stroke-opacity="0.22" stroke-linejoin="round" clip-path="url(#c_pr1)"/>
<polyline points="466.20,64.10 468.65,64.82 471.09,64.14 473.54,64.40 475.99,64.82 478.43,65.42 481.41,64.70 484.39,64.89 487.38,65.58 490.36,65.81 493.34,66.46 496.32,67.05 499.27,66.69 502.23,66.57 505.19,67.65 508.15,66.71 511.10,67.85 514.06,68.09 517.02,68.63 520.04,67.31 523.05,67.96 526.07,67.96 529.09,68.61 532.10,69.78 535.12,69.53 538.14,69.49 541.15,70.33 544.15,69.22 547.15,70.41 550.14,71.00 553.14,70.17 556.13,71.53 559.13,70.47 562.12,71.49 565.12,71.57 568.11,72.15 570.91,72.26 573.70,73.07 576.49,73.65 579.28,72.65 582.08,74.01 584.87,73.46 587.66,74.72 590.46,73.82 593.25,74.28 596.03,74.97 598.81,75.43 601.59,76.19 604.38,76.41 607.16,77.86 609.94,77.75 612.72,77.65 615.50,79.13 618.42,78.61 621.34,79.32 624.26,80.75 627.18,81.48 630.10,81.99 633.02,82.75 635.93,82.41 638.79,84.45 641.65,86.09 644.51,87.03 647.37,87.07 650.23,87.68 653.09,89.53 655.61,91.04 658.12,92.45 660.64,93.63 663.16,95.99 665.67,96.86 668.00,99.26 670.33,101.47 672.65,104.50 674.98,106.83 677.81,111.05 680.63,114.62 683.46,120.07 686.29,126.50 689.13,133.80 691.96,140.96 694.52,149.28 697.08,156.32 699.64,164.64 701.87,173.10 704.10,180.42 706.32,188.24 709.24,198.84 712.16,209.71 714.58,220.90 717.01,230.25 718.65,237.44 720.30,245.33" fill="none" stroke="#ff7f0e" stroke-width="0.9" stroke-opacity="0.22" stroke-linejoin="round" clip-path="url(#c_pr1)"/>
<polyline points="466.20,64.10 469.88,67.06 473.57,70.09 477.38,71.31 481.19,70.78 485.00,69.52 488.81,67.30 492.63,65.61 497.51,66.41 502.38,66.09 507.26,66.86 512.14,66.85 517.02,67.54 522.10,67.48 527.18,68.67 532.27,69.61 537.35,69.94 542.43,69.03 547.18,70.23 551.93,69.18 556.69,69.25 561.44,70.46 566.19,68.89 570.94,70.52 575.69,68.72 580.44,68.77 585.20,70.12 589.95,69.02 594.96,69.55 599.97,71.40 604.97,70.77 609.98,72.49 614.99,71.32 620.00,72.35 625.01,72.26 630.02,74.80 635.03,74.77 640.04,74.66 645.05,75.23 650.06,76.69 655.07,75.70 660.08,76.33 664.65,78.60 669.23,80.01 673.80,79.97 678.37,81.61 682.10,83.40 685.83,86.12 689.55,88.67 693.11,94.35 696.67,98.97 700.48,105.04 704.29,111.21 706.96,119.17 709.63,125.79 713.44,147.87 715.22,166.07 717.25,199.01 719.03,239.38" fill="none" stroke="#d62728" stroke-width="1.4" stroke-dasharray="8,2.3,1.6,2.3" stroke-linejoin="round" clip-path="url(#c_pr1)"/>
<polyline points="466.20,64.10 470.44,64.78 474.67,66.67 478.90,67.17 483.14,66.89 487.38,65.70 491.61,65.44 495.17,66.08 498.72,68.38 502.28,68.83 507.19,68.29 512.11,66.81 517.02,65.17 522.10,66.28 527.18,66.32 532.27,65.91 537.35,66.41 542.43,67.26 547.18,66.93 551.93,66.84 556.69,68.42 561.44,67.39 566.19,67.84 570.94,68.69 575.69,69.26 580.44,68.23 585.20,69.50 589.95,70.17 594.73,70.62 599.52,69.85 604.30,70.69 609.09,70.81 613.87,71.39 618.66,72.16 623.26,71.75 627.86,73.01 632.47,73.03 637.07,72.88 641.67,73.53 646.27,73.43 650.87,74.19 655.48,74.29 660.08,75.66 664.65,76.17 669.23,76.88 673.80,78.04 678.37,78.60 682.10,80.80 685.83,82.49 689.55,83.90 693.11,88.93 696.67,93.52 700.48,100.01 704.29,106.14 706.96,112.62 709.63,120.66 713.44,142.91 715.22,164.72 717.25,198.98 719.03,239.92" fill="none" stroke="#9467bd" stroke-width="1.4" stroke-linejoin="round" clip-path="url(#c_pr1)"/>
<polyline points="466.20,64.10 471.28,65.21 476.36,64.10 481.45,65.20 486.53,64.61 491.61,64.27 496.69,64.33 501.77,65.39 506.86,65.62 511.94,66.98 517.02,66.41 521.88,66.72 526.74,65.86 531.61,66.70 536.47,66.43 541.33,67.31 546.19,68.05 551.05,66.77 555.91,67.01 560.78,68.16 565.64,68.94 570.50,68.22 575.36,68.44 580.22,68.02 585.08,68.58 589.95,68.95 594.96,69.31 599.97,70.24 604.97,71.45 609.98,71.93 614.99,70.52 620.00,71.25 625.01,72.93 630.02,72.15 635.03,73.44 640.04,74.85 645.05,73.73 650.06,74.81 655.07,74.56 660.08,75.61 664.65,77.83 669.23,77.63 673.80,78.22 678.37,78.93 682.10,82.32 685.83,84.05 689.55,85.85 693.11,91.60 696.67,94.72 700.48,101.36 704.29,109.44 706.96,115.84 709.63,123.90 713.44,145.93 715.22,163.96 717.25,198.33 719.03,238.30" fill="none" stroke="#8c564b" stroke-width="1.4" stroke-dasharray="4.8,2.3" stroke-linejoin="round" clip-path="url(#c_pr1)"/>
<polyline points="466.20,329.00 470.01,329.00 473.82,329.00 477.63,331.31 481.45,333.76 484.83,339.15 488.22,341.06 491.61,349.28 495.00,354.78 498.39,359.05 501.77,363.87 505.16,367.56 508.55,371.87 511.94,376.65 515.50,378.01 519.05,380.49 522.61,381.65 526.17,385.83 529.73,388.87 533.11,389.68 536.50,389.49 539.89,391.68 543.28,391.46 546.66,392.57 550.05,395.89 553.80,398.25 557.55,396.06 561.30,396.77 565.04,399.35 568.79,398.93 572.54,401.50 576.29,399.38 580.04,400.61 583.15,399.61 586.26,397.62 589.37,399.89 592.49,397.18 595.62,398.86 598.76,401.09 601.89,405.64 605.65,411.09 609.41,412.98 613.17,419.73 616.93,421.08 620.69,428.68 624.45,428.55 628.21,430.45 631.97,434.20 635.74,434.49 639.50,436.42 643.26,442.06 647.02,444.53 650.78,449.68 654.54,454.58 658.30,462.70 661.45,466.26 664.60,467.07 667.75,470.84 670.90,470.50 674.05,475.13 677.15,477.71 680.25,478.89 683.35,480.24 686.45,480.56 689.55,483.81 692.70,486.41 695.86,486.43 699.01,491.31 702.16,492.35 705.31,491.87 709.06,492.17 712.80,495.90 716.55,496.67 720.30,495.19" fill="none" stroke="#1f77b4" stroke-width="0.9" stroke-opacity="0.22" stroke-linejoin="round" clip-path="url(#c_pr2)"/>
<polyline points="466.20,329.00 469.38,330.16 472.55,333.75 475.73,333.83 478.90,338.45 482.08,338.94 485.26,345.24 488.43,345.89 491.61,350.00 495.24,351.30 498.87,351.64 502.50,351.41 506.13,352.50 509.76,351.38 513.39,352.26 517.02,354.56 520.83,353.33 524.64,355.69 528.45,354.80 532.27,357.48 536.08,359.57 539.89,360.38 543.70,357.64 547.51,360.21 551.32,361.27 555.13,362.26 558.60,363.99 562.06,366.99 565.53,365.53 569.00,367.09 572.46,367.48 575.92,370.75 579.39,374.25 582.86,373.86 586.32,374.40 589.78,375.42 593.25,378.14 596.88,379.86 600.51,381.63 604.14,381.43 607.77,387.24 611.40,389.26 615.03,387.46 618.66,391.32 622.29,396.03 625.92,397.13 629.55,398.35 633.18,399.80 636.81,400.35 640.44,403.25 644.07,407.69 647.70,408.66 651.33,411.99 654.96,415.79 658.59,420.13 662.22,422.90 665.85,424.36 669.48,430.39 673.11,433.80 676.74,435.03 680.37,440.12 684.00,444.90 687.63,445.18 691.26,450.77 694.89,455.32 698.52,461.75 702.15,468.49 705.78,472.56 709.41,480.25 713.04,483.33 716.67,492.85 720.30,497.60" fill="none" stroke="#ff7f0e" stroke-width="0.9" stroke-opacity="0.22" stroke-linejoin="round" clip-path="url(#c_pr2)"/>
<polyline points="466.20,329.00 470.01,329.00 473.82,329.00 477.63,329.00 481.45,329.00 485.26,329.00 489.07,329.00 492.88,331.27 496.69,329.17 500.50,329.00 504.31,329.00 508.13,329.00 511.94,331.83 515.75,330.59 519.56,332.15 523.37,331.20 527.18,331.53 531.00,334.72 534.81,334.22 538.62,334.40 542.43,331.81 546.06,333.23 549.69,336.83 553.32,334.45 556.95,338.31 560.58,336.69 564.21,339.74 567.84,341.03 571.47,337.53 575.10,341.41 578.73,342.07 582.36,339.06 585.99,340.28 589.62,343.78 593.25,341.23 596.88,344.47 600.51,345.00 604.14,348.49 607.77,346.14 611.40,348.55 615.03,348.43 618.66,349.98 622.29,354.05 625.92,354.96 629.55,357.10 633.18,358.40 636.81,360.00 640.44,360.06 644.07,359.81 647.53,364.89 651.00,363.83 654.46,367.66 657.93,369.98 661.39,369.72 664.86,373.54 668.32,376.52 671.79,377.92 675.25,379.03 678.72,384.34 682.18,382.11 685.81,392.54 689.44,394.89 693.07,400.28 696.70,410.11 700.33,412.26 703.96,420.14 707.59,424.96 710.77,444.56 713.95,461.24 717.12,477.46 720.30,492.78" fill="none" stroke="#2ca02c" stroke-width="0.9" stroke-opacity="0.22" stroke-linejoin="round" clip-path="url(#c_pr2)"/>
<polyline points="466.20,329.00 470.01,333.93 473.82,338.01 475.09,464.34 477.63,360.70 481.13,362.64 484.62,355.55 488.12,354.51 491.61,351.62 495.24,350.94 498.87,353.15 502.50,349.48 506.13,349.60 509.76,351.34 513.39,347.22 517.02,348.56 520.65,347.89 524.28,351.65 527.91,349.47 531.54,353.40 535.17,353.81 538.80,354.30 542.43,355.27 546.06,353.35 549.69,355.81 553.32,356.61 556.95,354.32 560.58,355.23 564.21,357.71 567.84,359.28 571.47,357.77 575.10,359.73 578.73,361.68 582.36,362.96 585.99,363.72 589.62,364.16 593.25,366.67 596.88,368.56 600.51,367.36 604.14,369.60 607.77,371.40 611.40,371.34 615.03,370.49 618.66,370.77 622.29,376.34 625.92,374.32 629.55,378.46 633.18,377.51 636.81,379.09 640.44,383.65 644.07,383.71 647.70,385.78 651.33,389.10 654.96,387.33 658.59,390.52 662.22,390.84 665.85,396.41 669.48,397.60 673.11,397.16 676.74,402.90 680.37,405.31 684.00,408.54 687.63,408.63 691.26,413.93 694.89,417.50 698.52,428.59 702.15,435.71 705.78,450.87 709.41,461.34 713.04,471.56 716.67,481.47 720.30,492.78" fill="none" stroke="#e377c2" stroke-width="0.9" stroke-opacity="0.22" stroke-linejoin="round" clip-path="url(#c_pr2)"/>
<polyline points="466.20,329.00 469.83,332.33 473.46,332.92 477.09,335.82 480.72,336.76 484.35,338.72 487.98,343.48 491.61,345.80 495.24,344.58 498.87,350.12 502.50,352.99 506.13,352.07 509.76,357.36 513.39,358.35 517.02,362.83 520.65,364.11 524.28,368.53 527.91,368.26 531.54,369.20 535.17,372.93 538.80,373.94 542.43,376.34 546.06,379.27 549.69,375.93 553.32,376.73 556.95,378.13 560.58,379.43 564.21,375.41 567.84,377.30 571.47,377.49 575.10,378.10 578.73,380.27 582.36,380.65 585.99,384.56 589.62,383.98 593.25,387.07 596.88,386.08 600.51,387.73 604.14,392.87 607.77,394.06 611.40,395.05 615.03,392.82 618.66,396.75 622.29,397.89 625.92,401.53 629.55,402.60 633.18,405.25 636.81,407.48 640.44,408.41 644.07,410.48 647.70,411.01 651.33,414.14 654.96,415.02 658.59,417.43 662.22,418.85 665.85,422.45 669.48,426.96 673.11,427.04 676.74,429.98 680.37,433.71 684.00,438.77 687.63,441.51 691.26,447.38 694.89,447.83 698.52,455.26 702.15,462.85 705.78,470.11 709.41,472.49 713.04,478.03 716.67,488.57 720.30,492.78" fill="none" stroke="#7f7f7f" stroke-width="0.9" stroke-opacity="0.22" stroke-linejoin="round" clip-path="url(#c_pr2)"/>
<polyline points="466.20,329.00 469.83,329.00 473.46,333.90 477.09,332.04 480.72,334.58 484.35,333.75 487.98,337.71 491.61,336.61 495.24,340.96 498.87,337.63 502.50,341.12 506.13,342.91 509.76,342.82 513.39,342.13 517.02,345.69 520.83,344.96 524.64,347.73 528.45,348.42 532.27,348.89 536.08,349.57 539.89,350.32 543.70,348.85 547.51,351.56 551.32,350.40 555.13,351.17 558.60,352.50 562.06,353.56 565.53,356.66 569.00,357.52 572.46,357.82 575.92,360.76 579.39,364.00 582.86,363.50 586.32,364.76 589.78,367.77 593.25,369.50 596.88,371.81 600.51,372.09 604.14,374.29 607.77,377.79 611.40,381.65 615.03,386.32 618.66,389.19 622.29,390.19 625.92,394.92 629.55,399.40 633.18,404.90 636.81,409.26 640.44,413.12 644.07,417.50 647.25,420.04 650.42,426.27 653.60,429.89 656.77,435.31 659.95,432.33 663.13,428.98 666.30,426.40 669.48,427.03 673.11,428.63 676.74,434.65 680.37,440.31 684.00,447.59 687.63,450.69 691.26,456.87 694.89,465.13 698.52,468.48 702.15,473.20 705.78,479.17 709.41,483.97 713.04,491.26 716.67,496.08 720.30,502.41" fill="none" stroke="#bcbd22" stroke-width="0.9" stroke-opacity="0.22" stroke-linejoin="round" clip-path="url(#c_pr2)"/>
<polyline points="466.20,329.00 469.38,331.91 472.55,332.91 475.73,330.98 478.90,333.62 482.08,335.47 485.26,335.81 488.43,335.41 491.61,337.06 495.24,336.25 498.87,340.11 502.50,339.98 506.13,341.43 509.76,340.16 513.39,340.80 517.02,343.38 520.83,342.04 524.64,346.49 528.45,344.06 532.27,346.58 536.08,347.37 539.89,346.07 543.70,348.84 547.51,349.58 551.32,348.85 555.13,347.81 558.60,348.62 562.06,348.95 565.53,352.40 569.00,351.91 572.46,351.45 575.92,352.65 579.39,357.34 582.86,357.76 586.32,359.59 589.78,358.76 593.25,360.41 596.88,362.35 600.51,366.11 604.14,365.47 607.77,371.85 611.40,369.99 615.03,373.15 618.66,375.95 622.29,379.30 625.92,380.46 629.55,385.56 633.18,385.99 636.81,388.79 640.44,395.80 644.07,396.28 647.70,401.04 651.33,400.92 654.96,406.81 658.59,405.32 662.22,411.65 665.85,413.29 669.48,418.03 673.11,419.57 676.74,422.66 680.37,426.17 684.00,434.01 687.63,437.38 691.26,441.01 694.89,445.89 698.52,452.79 702.15,459.10 705.78,464.51 709.41,473.61 713.04,476.72 716.67,488.10 720.30,492.78" fill="none" stroke="#17becf" stroke-width="0.9" stroke-opacity="0.22" stroke-linejoin="round" clip-path="url(#c_pr2)"/>
<polyline points="466.20,329.00 469.83,330.71 473.46,330.50 477.09,329.00 480.72,329.00 484.35,330.06 487.98,329.79 491.61,329.00 495.24,331.21 498.87,330.74 502.50,334.95 506.13,335.16 509.76,336.96 513.39,336.03 517.02,337.01 520.65,339.94 524.28,339.50 527.91,344.84 531.54,343.30 535.17,346.72 538.80,348.40 542.43,348.00 546.06,350.97 549.69,351.92 553.32,351.40 556.95,350.56 560.58,350.97 564.21,350.89 567.84,353.93 571.47,353.04 575.10,352.17 578.73,352.96 582.36,357.25 585.99,357.26 589.62,358.68 593.25,357.44 596.88,359.37 600.51,360.29 604.14,363.02 607.77,361.34 611.40,366.69 615.03,363.79 618.66,365.93 622.29,367.69 625.92,369.67 629.55,369.45 633.18,373.17 636.81,372.23 640.44,373.65 644.07,379.29 647.70,379.76 651.33,384.53 654.96,384.40 658.59,390.30 662.22,388.81 665.85,395.13 669.48,396.78 673.11,403.58 676.74,405.81 680.37,409.58 684.00,413.78 687.63,422.32 691.26,426.37 694.89,430.69 698.52,440.38 702.15,449.35 705.78,457.72 709.41,465.20 713.04,476.37 716.67,481.54 720.30,492.78" fill="none" stroke="#1f77b4" stroke-width="0.9" stroke-opacity="0.22" stroke-linejoin="round" clip-path="url(#c_pr2)"/>
<polyline points="466.20,329.00 469.38,330.57 472.55,334.06 475.73,337.95 478.90,345.46 482.08,346.62 485.26,351.04 488.43,354.14 491.61,359.68 494.79,356.98 497.96,353.35 501.14,352.02 504.31,348.48 507.49,351.76 510.67,352.67 513.84,350.87 517.02,353.46 520.65,353.71 524.28,353.33 527.91,355.83 531.54,357.97 535.17,355.16 538.80,356.78 542.43,357.14 545.89,358.63 549.36,358.26 552.82,362.50 556.29,361.91 559.75,365.10 563.22,365.44 566.68,366.32 570.15,369.31 573.62,371.72 577.08,371.16 580.54,371.30 584.36,373.84 588.17,376.46 591.98,377.45 595.79,381.59 599.60,383.54 603.41,384.76 607.23,384.32 611.04,389.23 614.85,391.55 618.66,393.55 622.29,395.91 625.92,396.83 629.55,397.46 633.18,398.33 636.81,402.76 640.44,404.64 644.07,407.09 647.70,410.45 651.33,411.62 654.96,416.16 658.59,421.00 662.22,425.17 665.85,425.35 669.48,429.16 673.11,432.70 676.74,439.68 680.37,442.32 684.00,444.66 687.63,450.35 691.26,452.78 694.89,460.66 698.52,462.28 702.15,472.21 705.78,475.98 709.41,483.38 713.04,485.09 716.67,491.19 720.30,497.60" fill="none" stroke="#ff7f0e" stroke-width="0.9" stroke-opacity="0.22" stroke-linejoin="round" clip-path="url(#c_pr2)"/>
<polyline points="466.20,329.00 468.87,357.96 471.54,390.98 473.82,388.08 478.52,383.96 483.22,377.82 486.02,374.07 488.81,367.29 491.48,369.00 494.15,366.11 498.47,362.01 503.04,366.04 505.97,362.44 508.89,358.49 511.68,361.66 514.48,362.08 518.93,365.10 523.37,366.85 527.18,366.56 531.00,366.39 534.81,366.26 539.21,366.09 543.62,368.42 548.02,368.43 550.94,363.49 553.86,358.69 557.68,360.46 561.49,363.46 566.12,363.79 570.76,363.78 575.40,365.36 580.04,367.12 584.74,365.67 589.44,365.28 594.14,365.93 598.84,365.82 603.54,366.28 608.24,365.52 612.94,365.91 617.64,367.08 622.62,368.71 627.60,370.83 632.58,371.86 637.57,370.94 642.55,372.27 647.25,373.68 651.95,375.71 656.65,377.05 661.35,378.09 665.72,380.75 670.09,381.89 674.46,385.24 678.83,387.03 683.20,389.90 687.90,395.10 692.60,400.07 697.30,405.50 702.00,412.86 706.24,423.05 710.47,435.88 714.71,448.50 717.50,470.76 720.30,491.81" fill="none" stroke="#d62728" stroke-width="1.4" stroke-dasharray="8,2.3,1.6,2.3" stroke-linejoin="round" clip-path="url(#c_pr2)"/>
<polyline points="466.20,373.32 468.87,355.99 471.54,337.18 476.36,357.43 481.19,364.68 484.11,365.90 487.04,364.49 491.61,375.94 494.53,369.76 497.45,360.40 501.77,356.75 506.09,352.95 510.92,351.03 515.75,349.46 520.83,349.47 525.91,346.99 531.00,348.06 535.40,346.07 539.80,346.13 544.21,348.19 549.04,346.08 553.86,344.00 557.68,343.99 561.49,346.79 565.30,345.04 569.11,345.28 572.75,345.84 576.39,347.20 580.04,349.44 584.19,352.21 588.34,351.69 592.49,353.75 597.19,354.16 601.89,356.78 606.59,357.09 611.29,358.42 616.32,359.18 621.35,359.46 626.38,359.77 631.42,360.72 636.45,362.21 641.15,360.59 645.85,362.82 650.55,365.68 655.25,366.04 659.95,367.66 664.65,369.85 668.53,369.22 672.40,373.23 676.28,372.51 680.15,375.10 684.85,381.71 689.55,386.73 693.70,394.82 697.85,404.13 702.00,410.61 705.94,418.88 709.88,425.87 713.82,448.23 717.76,470.27 720.30,491.81" fill="none" stroke="#9467bd" stroke-width="1.4" stroke-linejoin="round" clip-path="url(#c_pr2)"/>
<polyline points="466.20,374.28 467.98,463.54 471.28,462.75 474.59,464.00 475.60,376.56 479.41,369.16 483.22,363.62 487.93,362.52 492.63,362.06 496.52,358.31 500.42,357.31 504.31,353.56 509.40,349.24 514.48,348.04 519.56,347.51 523.37,345.64 527.18,346.82 531.00,345.78 534.81,345.07 538.62,346.00 542.43,346.58 546.24,345.84 550.05,348.81 553.86,353.13 557.68,355.51 561.49,355.06 565.30,358.22 569.11,358.06 572.75,359.41 576.39,358.51 580.04,360.08 584.36,365.78 589.18,365.54 594.01,363.20 598.84,362.45 603.80,363.83 608.75,363.22 613.71,365.42 618.66,365.58 623.44,364.58 628.21,367.45 632.99,368.47 637.77,369.56 642.55,368.48 647.25,369.50 651.95,373.17 656.65,373.38 661.35,375.06 665.72,377.57 670.09,380.15 674.46,382.03 678.83,385.05 683.20,385.10 687.90,392.73 692.60,397.30 697.30,402.53 702.00,408.03 706.24,421.40 710.47,434.10 714.71,445.76 717.50,469.64 720.30,490.37" fill="none" stroke="#8c564b" stroke-width="1.4" stroke-dasharray="4.8,2.3" stroke-linejoin="round" clip-path="url(#c_pr2)"/>
<rect x="49.5" y="54.5" width="283.0" height="203.0" fill="none" stroke="#a0a0a0" stroke-width="1"/>
<rect x="454.5" y="54.5" width="278.0" height="203.0" fill="none" stroke="#a0a0a0" stroke-width="1"/>
<rect x="49.5" y="319.5" width="283.0" height="203.0" fill="none" stroke="#a0a0a0" stroke-width="1"/>
<rect x="454.5" y="319.5" width="278.0" height="203.0" fill="none" stroke="#a0a0a0" stroke-width="1"/>
<text x="47.10" y="256.10" font-family="Liberation Sans" font-size="6.0" font-weight="normal" text-anchor="end" fill="#222222" textLength="7.3500000000000005" lengthAdjust="spacingAndGlyphs" stroke="#222222" stroke-width="0.1">0.0</text>
<line x1="47.3" y1="254.00" x2="49.5" y2="254.00" stroke="#9a9a9a" stroke-width="0.6"/>
<text x="47.10" y="218.16" font-family="Liberation Sans" font-size="6.0" font-weight="normal" text-anchor="end" fill="#222222" textLength="7.3500000000000005" lengthAdjust="spacingAndGlyphs" stroke="#222222" stroke-width="0.1">0.2</text>
<line x1="47.3" y1="216.06" x2="49.5" y2="216.06" stroke="#9a9a9a" stroke-width="0.6"/>
<text x="47.10" y="180.22" font-family="Liberation Sans" font-size="6.0" font-weight="normal" text-anchor="end" fill="#222222" textLength="7.3500000000000005" lengthAdjust="spacingAndGlyphs" stroke="#222222" stroke-width="0.1">0.4</text>
<line x1="47.3" y1="178.12" x2="49.5" y2="178.12" stroke="#9a9a9a" stroke-width="0.6"/>
<text x="47.10" y="142.28" font-family="Liberation Sans" font-size="6.0" font-weight="normal" text-anchor="end" fill="#222222" textLength="7.3500000000000005" lengthAdjust="spacingAndGlyphs" stroke="#222222" stroke-width="0.1">0.6</text>
<line x1="47.3" y1="140.18" x2="49.5" y2="140.18" stroke="#9a9a9a" stroke-width="0.6"/>
<text x="47.10" y="104.34" font-family="Liberation Sans" font-size="6.0" font-weight="normal" text-anchor="end" fill="#222222" textLength="7.3500000000000005" lengthAdjust="spacingAndGlyphs" stroke="#222222" stroke-width="0.1">0.8</text>
<line x1="47.3" y1="102.24" x2="49.5" y2="102.24" stroke="#9a9a9a" stroke-width="0.6"/>
<text x="47.10" y="66.40" font-family="Liberation Sans" font-size="6.0" font-weight="normal" text-anchor="end" fill="#222222" textLength="7.3500000000000005" lengthAdjust="spacingAndGlyphs" stroke="#222222" stroke-width="0.1">1.0</text>
<line x1="47.3" y1="64.30" x2="49.5" y2="64.30" stroke="#9a9a9a" stroke-width="0.6"/>
<text x="62.20" y="264.00" font-family="Liberation Sans" font-size="6.0" font-weight="normal" text-anchor="middle" fill="#222222" textLength="7.4" lengthAdjust="spacingAndGlyphs" stroke="#222222" stroke-width="0.1">0.0</text>
<line x1="62.20" y1="257.5" x2="62.20" y2="259.7" stroke="#9a9a9a" stroke-width="0.6"/>
<text x="113.62" y="264.00" font-family="Liberation Sans" font-size="6.0" font-weight="normal" text-anchor="middle" fill="#222222" textLength="7.4" lengthAdjust="spacingAndGlyphs" stroke="#222222" stroke-width="0.1">0.2</text>
<line x1="113.62" y1="257.5" x2="113.62" y2="259.7" stroke="#9a9a9a" stroke-width="0.6"/>
<text x="165.04" y="264.00" font-family="Liberation Sans" font-size="6.0" font-weight="normal" text-anchor="middle" fill="#222222" textLength="7.4" lengthAdjust="spacingAndGlyphs" stroke="#222222" stroke-width="0.1">0.4</text>
<line x1="165.04" y1="257.5" x2="165.04" y2="259.7" stroke="#9a9a9a" stroke-width="0.6"/>
<text x="216.46" y="264.00" font-family="Liberation Sans" font-size="6.0" font-weight="normal" text-anchor="middle" fill="#222222" textLength="7.4" lengthAdjust="spacingAndGlyphs" stroke="#222222" stroke-width="0.1">0.6</text>
<line x1="216.46" y1="257.5" x2="216.46" y2="259.7" stroke="#9a9a9a" stroke-width="0.6"/>
<text x="267.88" y="264.00" font-family="Liberation Sans" font-size="6.0" font-weight="normal" text-anchor="middle" fill="#222222" textLength="7.4" lengthAdjust="spacingAndGlyphs" stroke="#222222" stroke-width="0.1">0.8</text>
<line x1="267.88" y1="257.5" x2="267.88" y2="259.7" stroke="#9a9a9a" stroke-width="0.6"/>
<text x="319.30" y="264.00" font-family="Liberation Sans" font-size="6.0" font-weight="normal" text-anchor="middle" fill="#222222" textLength="7.4" lengthAdjust="spacingAndGlyphs" stroke="#222222" stroke-width="0.1">1.0</text>
<line x1="319.30" y1="257.5" x2="319.30" y2="259.7" stroke="#9a9a9a" stroke-width="0.6"/>
<text x="47.10" y="517.00" font-family="Liberation Sans" font-size="6.0" font-weight="normal" text-anchor="end" fill="#222222" textLength="7.3500000000000005" lengthAdjust="spacingAndGlyphs" stroke="#222222" stroke-width="0.1">0.0</text>
<line x1="47.3" y1="514.90" x2="49.5" y2="514.90" stroke="#9a9a9a" stroke-width="0.6"/>
<text x="47.10" y="479.82" font-family="Liberation Sans" font-size="6.0" font-weight="normal" text-anchor="end" fill="#222222" textLength="7.3500000000000005" lengthAdjust="spacingAndGlyphs" stroke="#222222" stroke-width="0.1">0.2</text>
<line x1="47.3" y1="477.72" x2="49.5" y2="477.72" stroke="#9a9a9a" stroke-width="0.6"/>
<text x="47.10" y="442.64" font-family="Liberation Sans" font-size="6.0" font-weight="normal" text-anchor="end" fill="#222222" textLength="7.3500000000000005" lengthAdjust="spacingAndGlyphs" stroke="#222222" stroke-width="0.1">0.4</text>
<line x1="47.3" y1="440.54" x2="49.5" y2="440.54" stroke="#9a9a9a" stroke-width="0.6"/>
<text x="47.10" y="405.46" font-family="Liberation Sans" font-size="6.0" font-weight="normal" text-anchor="end" fill="#222222" textLength="7.3500000000000005" lengthAdjust="spacingAndGlyphs" stroke="#222222" stroke-width="0.1">0.6</text>
<line x1="47.3" y1="403.36" x2="49.5" y2="403.36" stroke="#9a9a9a" stroke-width="0.6"/>
<text x="47.10" y="368.28" font-family="Liberation Sans" font-size="6.0" font-weight="normal" text-anchor="end" fill="#222222" textLength="7.3500000000000005" lengthAdjust="spacingAndGlyphs" stroke="#222222" stroke-width="0.1">0.8</text>
<line x1="47.3" y1="366.18" x2="49.5" y2="366.18" stroke="#9a9a9a" stroke-width="0.6"/>
<text x="47.10" y="331.10" font-family="Liberation Sans" font-size="6.0" font-weight="normal" text-anchor="end" fill="#222222" textLength="7.3500000000000005" lengthAdjust="spacingAndGlyphs" stroke="#222222" stroke-width="0.1">1.0</text>
<line x1="47.3" y1="329.00" x2="49.5" y2="329.00" stroke="#9a9a9a" stroke-width="0.6"/>
<text x="62.20" y="529.20" font-family="Liberation Sans" font-size="6.0" font-weight="normal" text-anchor="middle" fill="#222222" textLength="7.4" lengthAdjust="spacingAndGlyphs" stroke="#222222" stroke-width="0.1">0.0</text>
<line x1="62.20" y1="522.5" x2="62.20" y2="524.7" stroke="#9a9a9a" stroke-width="0.6"/>
<text x="113.62" y="529.20" font-family="Liberation Sans" font-size="6.0" font-weight="normal" text-anchor="middle" fill="#222222" textLength="7.4" lengthAdjust="spacingAndGlyphs" stroke="#222222" stroke-width="0.1">0.2</text>
<line x1="113.62" y1="522.5" x2="113.62" y2="524.7" stroke="#9a9a9a" stroke-width="0.6"/>
<text x="165.04" y="529.20" font-family="Liberation Sans" font-size="6.0" font-weight="normal" text-anchor="middle" fill="#222222" textLength="7.4" lengthAdjust="spacingAndGlyphs" stroke="#222222" stroke-width="0.1">0.4</text>
<line x1="165.04" y1="522.5" x2="165.04" y2="524.7" stroke="#9a9a9a" stroke-width="0.6"/>
<text x="216.46" y="529.20" font-family="Liberation Sans" font-size="6.0" font-weight="normal" text-anchor="middle" fill="#222222" textLength="7.4" lengthAdjust="spacingAndGlyphs" stroke="#222222" stroke-width="0.1">0.6</text>
<line x1="216.46" y1="522.5" x2="216.46" y2="524.7" stroke="#9a9a9a" stroke-width="0.6"/>
<text x="267.88" y="529.20" font-family="Liberation Sans" font-size="6.0" font-weight="normal" text-anchor="middle" fill="#222222" textLength="7.4" lengthAdjust="spacingAndGlyphs" stroke="#222222" stroke-width="0.1">0.8</text>
<line x1="267.88" y1="522.5" x2="267.88" y2="524.7" stroke="#9a9a9a" stroke-width="0.6"/>
<text x="319.30" y="529.20" font-family="Liberation Sans" font-size="6.0" font-weight="normal" text-anchor="middle" fill="#222222" textLength="7.4" lengthAdjust="spacingAndGlyphs" stroke="#222222" stroke-width="0.1">1.0</text>
<line x1="319.30" y1="522.5" x2="319.30" y2="524.7" stroke="#9a9a9a" stroke-width="0.6"/>
<text x="452.10" y="255.55" font-family="Liberation Sans" font-size="6.0" font-weight="normal" text-anchor="end" fill="#222222" textLength="10.8" lengthAdjust="spacingAndGlyphs" stroke="#222222" stroke-width="0.1">0.65</text>
<line x1="452.3" y1="253.45" x2="454.5" y2="253.45" stroke="#9a9a9a" stroke-width="0.6"/>
<text x="452.10" y="228.50" font-family="Liberation Sans" font-size="6.0" font-weight="normal" text-anchor="end" fill="#222222" textLength="10.8" lengthAdjust="spacingAndGlyphs" stroke="#222222" stroke-width="0.1">0.70</text>
<line x1="452.3" y1="226.40" x2="454.5" y2="226.40" stroke="#9a9a9a" stroke-width="0.6"/>
<text x="452.10" y="201.45" font-family="Liberation Sans" font-size="6.0" font-weight="normal" text-anchor="end" fill="#222222" textLength="10.8" lengthAdjust="spacingAndGlyphs" stroke="#222222" stroke-width="0.1">0.75</text>
<line x1="452.3" y1="199.35" x2="454.5" y2="199.35" stroke="#9a9a9a" stroke-width="0.6"/>
<text x="452.10" y="174.40" font-family="Liberation Sans" font-size="6.0" font-weight="normal" text-anchor="end" fill="#222222" textLength="10.8" lengthAdjust="spacingAndGlyphs" stroke="#222222" stroke-width="0.1">0.80</text>
<line x1="452.3" y1="172.30" x2="454.5" y2="172.30" stroke="#9a9a9a" stroke-width="0.6"/>
<text x="452.10" y="147.35" font-family="Liberation Sans" font-size="6.0" font-weight="normal" text-anchor="end" fill="#222222" textLength="10.8" lengthAdjust="spacingAndGlyphs" stroke="#222222" stroke-width="0.1">0.85</text>
<line x1="452.3" y1="145.25" x2="454.5" y2="145.25" stroke="#9a9a9a" stroke-width="0.6"/>
<text x="452.10" y="120.30" font-family="Liberation Sans" font-size="6.0" font-weight="normal" text-anchor="end" fill="#222222" textLength="10.8" lengthAdjust="spacingAndGlyphs" stroke="#222222" stroke-width="0.1">0.90</text>
<line x1="452.3" y1="118.20" x2="454.5" y2="118.20" stroke="#9a9a9a" stroke-width="0.6"/>
<text x="452.10" y="93.25" font-family="Liberation Sans" font-size="6.0" font-weight="normal" text-anchor="end" fill="#222222" textLength="10.8" lengthAdjust="spacingAndGlyphs" stroke="#222222" stroke-width="0.1">0.95</text>
<line x1="452.3" y1="91.15" x2="454.5" y2="91.15" stroke="#9a9a9a" stroke-width="0.6"/>
<text x="452.10" y="66.20" font-family="Liberation Sans" font-size="6.0" font-weight="normal" text-anchor="end" fill="#222222" textLength="10.8" lengthAdjust="spacingAndGlyphs" stroke="#222222" stroke-width="0.1">1.00</text>
<line x1="452.3" y1="64.10" x2="454.5" y2="64.10" stroke="#9a9a9a" stroke-width="0.6"/>
<text x="466.20" y="264.00" font-family="Liberation Sans" font-size="6.0" font-weight="normal" text-anchor="middle" fill="#222222" textLength="7.4" lengthAdjust="spacingAndGlyphs" stroke="#222222" stroke-width="0.1">0.0</text>
<line x1="466.20" y1="257.5" x2="466.20" y2="259.7" stroke="#9a9a9a" stroke-width="0.6"/>
<text x="517.02" y="264.00" font-family="Liberation Sans" font-size="6.0" font-weight="normal" text-anchor="middle" fill="#222222" textLength="7.4" lengthAdjust="spacingAndGlyphs" stroke="#222222" stroke-width="0.1">0.2</text>
<line x1="517.02" y1="257.5" x2="517.02" y2="259.7" stroke="#9a9a9a" stroke-width="0.6"/>
<text x="567.84" y="264.00" font-family="Liberation Sans" font-size="6.0" font-weight="normal" text-anchor="middle" fill="#222222" textLength="7.4" lengthAdjust="spacingAndGlyphs" stroke="#222222" stroke-width="0.1">0.4</text>
<line x1="567.84" y1="257.5" x2="567.84" y2="259.7" stroke="#9a9a9a" stroke-width="0.6"/>
<text x="618.66" y="264.00" font-family="Liberation Sans" font-size="6.0" font-weight="normal" text-anchor="middle" fill="#222222" textLength="7.4" lengthAdjust="spacingAndGlyphs" stroke="#222222" stroke-width="0.1">0.6</text>
<line x1="618.66" y1="257.5" x2="618.66" y2="259.7" stroke="#9a9a9a" stroke-width="0.6"/>
<text x="669.48" y="264.00" font-family="Liberation Sans" font-size="6.0" font-weight="normal" text-anchor="middle" fill="#222222" textLength="7.4" lengthAdjust="spacingAndGlyphs" stroke="#222222" stroke-width="0.1">0.8</text>
<line x1="669.48" y1="257.5" x2="669.48" y2="259.7" stroke="#9a9a9a" stroke-width="0.6"/>
<text x="720.30" y="264.00" font-family="Liberation Sans" font-size="6.0" font-weight="normal" text-anchor="middle" fill="#222222" textLength="7.4" lengthAdjust="spacingAndGlyphs" stroke="#222222" stroke-width="0.1">1.0</text>
<line x1="720.30" y1="257.5" x2="720.30" y2="259.7" stroke="#9a9a9a" stroke-width="0.6"/>
<text x="452.10" y="523.78" font-family="Liberation Sans" font-size="6.0" font-weight="normal" text-anchor="end" fill="#222222" textLength="10.8" lengthAdjust="spacingAndGlyphs" stroke="#222222" stroke-width="0.1">0.60</text>
<line x1="452.3" y1="521.68" x2="454.5" y2="521.68" stroke="#9a9a9a" stroke-width="0.6"/>
<text x="452.10" y="499.70" font-family="Liberation Sans" font-size="6.0" font-weight="normal" text-anchor="end" fill="#222222" textLength="10.8" lengthAdjust="spacingAndGlyphs" stroke="#222222" stroke-width="0.1">0.65</text>
<line x1="452.3" y1="497.60" x2="454.5" y2="497.60" stroke="#9a9a9a" stroke-width="0.6"/>
<text x="452.10" y="475.61" font-family="Liberation Sans" font-size="6.0" font-weight="normal" text-anchor="end" fill="#222222" textLength="10.8" lengthAdjust="spacingAndGlyphs" stroke="#222222" stroke-width="0.1">0.70</text>
<line x1="452.3" y1="473.51" x2="454.5" y2="473.51" stroke="#9a9a9a" stroke-width="0.6"/>
<text x="452.10" y="451.53" font-family="Liberation Sans" font-size="6.0" font-weight="normal" text-anchor="end" fill="#222222" textLength="10.8" lengthAdjust="spacingAndGlyphs" stroke="#222222" stroke-width="0.1">0.75</text>
<line x1="452.3" y1="449.43" x2="454.5" y2="449.43" stroke="#9a9a9a" stroke-width="0.6"/>
<text x="452.10" y="427.44" font-family="Liberation Sans" font-size="6.0" font-weight="normal" text-anchor="end" fill="#222222" textLength="10.8" lengthAdjust="spacingAndGlyphs" stroke="#222222" stroke-width="0.1">0.80</text>
<line x1="452.3" y1="425.34" x2="454.5" y2="425.34" stroke="#9a9a9a" stroke-width="0.6"/>
<text x="452.10" y="403.36" font-family="Liberation Sans" font-size="6.0" font-weight="normal" text-anchor="end" fill="#222222" textLength="10.8" lengthAdjust="spacingAndGlyphs" stroke="#222222" stroke-width="0.1">0.85</text>
<line x1="452.3" y1="401.25" x2="454.5" y2="401.25" stroke="#9a9a9a" stroke-width="0.6"/>
<text x="452.10" y="379.27" font-family="Liberation Sans" font-size="6.0" font-weight="normal" text-anchor="end" fill="#222222" textLength="10.8" lengthAdjust="spacingAndGlyphs" stroke="#222222" stroke-width="0.1">0.90</text>
<line x1="452.3" y1="377.17" x2="454.5" y2="377.17" stroke="#9a9a9a" stroke-width="0.6"/>
<text x="452.10" y="355.19" font-family="Liberation Sans" font-size="6.0" font-weight="normal" text-anchor="end" fill="#222222" textLength="10.8" lengthAdjust="spacingAndGlyphs" stroke="#222222" stroke-width="0.1">0.95</text>
<line x1="452.3" y1="353.09" x2="454.5" y2="353.09" stroke="#9a9a9a" stroke-width="0.6"/>
<text x="452.10" y="331.10" font-family="Liberation Sans" font-size="6.0" font-weight="normal" text-anchor="end" fill="#222222" textLength="10.8" lengthAdjust="spacingAndGlyphs" stroke="#222222" stroke-width="0.1">1.00</text>
<line x1="452.3" y1="329.00" x2="454.5" y2="329.00" stroke="#9a9a9a" stroke-width="0.6"/>
<text x="466.20" y="529.20" font-family="Liberation Sans" font-size="6.0" font-weight="normal" text-anchor="middle" fill="#222222" textLength="7.4" lengthAdjust="spacingAndGlyphs" stroke="#222222" stroke-width="0.1">0.0</text>
<line x1="466.20" y1="522.5" x2="466.20" y2="524.7" stroke="#9a9a9a" stroke-width="0.6"/>
<text x="517.02" y="529.20" font-family="Liberation Sans" font-size="6.0" font-weight="normal" text-anchor="middle" fill="#222222" textLength="7.4" lengthAdjust="spacingAndGlyphs" stroke="#222222" stroke-width="0.1">0.2</text>
<line x1="517.02" y1="522.5" x2="517.02" y2="524.7" stroke="#9a9a9a" stroke-width="0.6"/>
<text x="567.84" y="529.20" font-family="Liberation Sans" font-size="6.0" font-weight="normal" text-anchor="middle" fill="#222222" textLength="7.4" lengthAdjust="spacingAndGlyphs" stroke="#222222" stroke-width="0.1">0.4</text>
<line x1="567.84" y1="522.5" x2="567.84" y2="524.7" stroke="#9a9a9a" stroke-width="0.6"/>
<text x="618.66" y="529.20" font-family="Liberation Sans" font-size="6.0" font-weight="normal" text-anchor="middle" fill="#222222" textLength="7.4" lengthAdjust="spacingAndGlyphs" stroke="#222222" stroke-width="0.1">0.6</text>
<line x1="618.66" y1="522.5" x2="618.66" y2="524.7" stroke="#9a9a9a" stroke-width="0.6"/>
<text x="669.48" y="529.20" font-family="Liberation Sans" font-size="6.0" font-weight="normal" text-anchor="middle" fill="#222222" textLength="7.4" lengthAdjust="spacingAndGlyphs" stroke="#222222" stroke-width="0.1">0.8</text>
<line x1="669.48" y1="522.5" x2="669.48" y2="524.7" stroke="#9a9a9a" stroke-width="0.6"/>
<text x="720.30" y="529.20" font-family="Liberation Sans" font-size="6.0" font-weight="normal" text-anchor="middle" fill="#222222" textLength="7.4" lengthAdjust="spacingAndGlyphs" stroke="#222222" stroke-width="0.1">1.0</text>
<line x1="720.30" y1="522.5" x2="720.30" y2="524.7" stroke="#9a9a9a" stroke-width="0.6"/>
<text x="2.90" y="155.60" font-family="Liberation Sans" font-size="7.0" font-weight="bold" text-anchor="start" fill="#000" textLength="37.3" lengthAdjust="spacingAndGlyphs">Sensitivity</text>
<text x="407.80" y="155.30" font-family="Liberation Sans" font-size="7.0" font-weight="bold" text-anchor="start" fill="#000" textLength="31.2" lengthAdjust="spacingAndGlyphs">precision</text>
<text x="2.90" y="420.90" font-family="Liberation Sans" font-size="7.0" font-weight="bold" text-anchor="start" fill="#000" textLength="37.3" lengthAdjust="spacingAndGlyphs">Sensitivity</text>
<text x="407.80" y="420.60" font-family="Liberation Sans" font-size="7.0" font-weight="bold" text-anchor="start" fill="#000" textLength="31.2" lengthAdjust="spacingAndGlyphs">precision</text>
<text x="166.50" y="274.60" font-family="Liberation Sans" font-size="7.0" font-weight="bold" text-anchor="start" fill="#000" textLength="48.3" lengthAdjust="spacingAndGlyphs">1 - Specificity</text>
<text x="583.80" y="274.60" font-family="Liberation Sans" font-size="7.0" font-weight="bold" text-anchor="start" fill="#000" textLength="19.1" lengthAdjust="spacingAndGlyphs">recall</text>
<text x="166.50" y="539.60" font-family="Liberation Sans" font-size="7.0" font-weight="bold" text-anchor="start" fill="#000" textLength="48.3" lengthAdjust="spacingAndGlyphs">1 - Specificity</text>
<text x="583.80" y="539.60" font-family="Liberation Sans" font-size="7.0" font-weight="bold" text-anchor="start" fill="#000" textLength="19.1" lengthAdjust="spacingAndGlyphs">recall</text>
<rect x="260.4" y="143.3" width="67.90000000000003" height="111.6" rx="1.5" fill="#ffffff" fill-opacity="0.8" stroke="#dcdcdc" stroke-width="0.7"/>
<line x1="263.4" y1="149.40" x2="276.4" y2="149.40" stroke="#1f77b4" stroke-opacity="0.22" stroke-width="1"/>
<text x="281.20" y="151.70" font-family="Liberation Sans" font-size="6.9" font-weight="normal" text-anchor="start" fill="#111111" textLength="12.9" lengthAdjust="spacingAndGlyphs" stroke="#111111" stroke-width="0.14">CNN</text>
<line x1="263.4" y1="158.45" x2="276.4" y2="158.45" stroke="#ff7f0e" stroke-opacity="0.22" stroke-width="1"/>
<text x="281.20" y="160.75" font-family="Liberation Sans" font-size="6.9" font-weight="normal" text-anchor="start" fill="#111111" textLength="21.0" lengthAdjust="spacingAndGlyphs" stroke="#111111" stroke-width="0.14">VGG16</text>
<line x1="263.4" y1="167.50" x2="276.4" y2="167.50" stroke="#2ca02c" stroke-opacity="0.22" stroke-width="1"/>
<text x="281.20" y="169.80" font-family="Liberation Sans" font-size="6.9" font-weight="normal" text-anchor="start" fill="#111111" textLength="21.0" lengthAdjust="spacingAndGlyphs" stroke="#111111" stroke-width="0.14">VGG19</text>
<line x1="263.4" y1="176.55" x2="276.4" y2="176.55" stroke="#d62728" stroke-width="1.4" stroke-dasharray="8,2.3,1.6,2.3"/>
<text x="281.20" y="178.85" font-family="Liberation Sans" font-size="6.9" font-weight="normal" text-anchor="start" fill="#111111" textLength="42.5" lengthAdjust="spacingAndGlyphs" stroke="#111111" stroke-width="0.14">DenseNet121</text>
<line x1="263.4" y1="185.60" x2="276.4" y2="185.60" stroke="#9467bd" stroke-width="1.4"/>
<text x="281.20" y="187.90" font-family="Liberation Sans" font-size="6.9" font-weight="normal" text-anchor="start" fill="#111111" textLength="42.8" lengthAdjust="spacingAndGlyphs" stroke="#111111" stroke-width="0.14">DenseNet169</text>
<line x1="263.4" y1="194.65" x2="276.4" y2="194.65" stroke="#8c564b" stroke-width="1.4" stroke-dasharray="4.8,2.3"/>
<text x="281.20" y="196.95" font-family="Liberation Sans" font-size="6.9" font-weight="normal" text-anchor="start" fill="#111111" textLength="42.5" lengthAdjust="spacingAndGlyphs" stroke="#111111" stroke-width="0.14">DenseNet201</text>
<line x1="263.4" y1="203.70" x2="276.4" y2="203.70" stroke="#e377c2" stroke-opacity="0.22" stroke-width="1"/>
<text x="281.20" y="206.00" font-family="Liberation Sans" font-size="6.9" font-weight="normal" text-anchor="start" fill="#111111" textLength="39.2" lengthAdjust="spacingAndGlyphs" stroke="#111111" stroke-width="0.14">MobileNetV1</text>
<line x1="263.4" y1="212.75" x2="276.4" y2="212.75" stroke="#7f7f7f" stroke-opacity="0.22" stroke-width="1"/>
<text x="281.20" y="215.05" font-family="Liberation Sans" font-size="6.9" font-weight="normal" text-anchor="start" fill="#111111" textLength="39.2" lengthAdjust="spacingAndGlyphs" stroke="#111111" stroke-width="0.14">MobileNetV2</text>
<line x1="263.4" y1="221.80" x2="276.4" y2="221.80" stroke="#bcbd22" stroke-opacity="0.22" stroke-width="1"/>
<text x="281.20" y="224.10" font-family="Liberation Sans" font-size="6.9" font-weight="normal" text-anchor="start" fill="#111111" textLength="29.8" lengthAdjust="spacingAndGlyphs" stroke="#111111" stroke-width="0.14">ResNet34</text>
<line x1="263.4" y1="230.85" x2="276.4" y2="230.85" stroke="#17becf" stroke-opacity="0.22" stroke-width="1"/>
<text x="281.20" y="233.15" font-family="Liberation Sans" font-size="6.9" font-weight="normal" text-anchor="start" fill="#111111" textLength="33.7" lengthAdjust="spacingAndGlyphs" stroke="#111111" stroke-width="0.14">ResNet101</text>
<line x1="263.4" y1="239.90" x2="276.4" y2="239.90" stroke="#1f77b4" stroke-opacity="0.22" stroke-width="1"/>
<text x="281.20" y="242.20" font-family="Liberation Sans" font-size="6.9" font-weight="normal" text-anchor="start" fill="#111111" textLength="33.7" lengthAdjust="spacingAndGlyphs" stroke="#111111" stroke-width="0.14">ResNet152</text>
<line x1="263.4" y1="248.95" x2="276.4" y2="248.95" stroke="#ff7f0e" stroke-opacity="0.22" stroke-width="1"/>
<text x="281.20" y="251.25" font-family="Liberation Sans" font-size="6.9" font-weight="normal" text-anchor="start" fill="#111111" textLength="45.0" lengthAdjust="spacingAndGlyphs" stroke="#111111" stroke-width="0.14">EfficientNetB3</text>
<rect x="457.2" y="142.9" width="66.90000000000003" height="111.79999999999998" rx="1.5" fill="#ffffff" fill-opacity="0.8" stroke="#dcdcdc" stroke-width="0.7"/>
<line x1="459.3" y1="149.00" x2="472.3" y2="149.00" stroke="#1f77b4" stroke-opacity="0.22" stroke-width="1"/>
<text x="477.10" y="151.30" font-family="Liberation Sans" font-size="6.9" font-weight="normal" text-anchor="start" fill="#111111" textLength="12.9" lengthAdjust="spacingAndGlyphs" stroke="#111111" stroke-width="0.14">CNN</text>
<line x1="459.3" y1="158.05" x2="472.3" y2="158.05" stroke="#ff7f0e" stroke-opacity="0.22" stroke-width="1"/>
<text x="477.10" y="160.35" font-family="Liberation Sans" font-size="6.9" font-weight="normal" text-anchor="start" fill="#111111" textLength="21.0" lengthAdjust="spacingAndGlyphs" stroke="#111111" stroke-width="0.14">VGG16</text>
<line x1="459.3" y1="167.10" x2="472.3" y2="167.10" stroke="#2ca02c" stroke-opacity="0.22" stroke-width="1"/>
<text x="477.10" y="169.40" font-family="Liberation Sans" font-size="6.9" font-weight="normal" text-anchor="start" fill="#111111" textLength="21.0" lengthAdjust="spacingAndGlyphs" stroke="#111111" stroke-width="0.14">VGG19</text>
<line x1="459.3" y1="176.15" x2="472.3" y2="176.15" stroke="#d62728" stroke-width="1.4" stroke-dasharray="8,2.3,1.6,2.3"/>
<text x="477.10" y="178.45" font-family="Liberation Sans" font-size="6.9" font-weight="normal" text-anchor="start" fill="#111111" textLength="42.5" lengthAdjust="spacingAndGlyphs" stroke="#111111" stroke-width="0.14">DenseNet121</text>
<line x1="459.3" y1="185.20" x2="472.3" y2="185.20" stroke="#9467bd" stroke-width="1.4"/>
<text x="477.10" y="187.50" font-family="Liberation Sans" font-size="6.9" font-weight="normal" text-anchor="start" fill="#111111" textLength="42.8" lengthAdjust="spacingAndGlyphs" stroke="#111111" stroke-width="0.14">DenseNet169</text>
<line x1="459.3" y1="194.25" x2="472.3" y2="194.25" stroke="#8c564b" stroke-width="1.4" stroke-dasharray="4.8,2.3"/>
<text x="477.10" y="196.55" font-family="Liberation Sans" font-size="6.9" font-weight="normal" text-anchor="start" fill="#111111" textLength="42.5" lengthAdjust="spacingAndGlyphs" stroke="#111111" stroke-width="0.14">DenseNet201</text>
<line x1="459.3" y1="203.30" x2="472.3" y2="203.30" stroke="#e377c2" stroke-opacity="0.22" stroke-width="1"/>
<text x="477.10" y="205.60" font-family="Liberation Sans" font-size="6.9" font-weight="normal" text-anchor="start" fill="#111111" textLength="39.2" lengthAdjust="spacingAndGlyphs" stroke="#111111" stroke-width="0.14">MobileNetV1</text>
<line x1="459.3" y1="212.35" x2="472.3" y2="212.35" stroke="#7f7f7f" stroke-opacity="0.22" stroke-width="1"/>
<text x="477.10" y="214.65" font-family="Liberation Sans" font-size="6.9" font-weight="normal" text-anchor="start" fill="#111111" textLength="39.2" lengthAdjust="spacingAndGlyphs" stroke="#111111" stroke-width="0.14">MobileNetV2</text>
<line x1="459.3" y1="221.40" x2="472.3" y2="221.40" stroke="#bcbd22" stroke-opacity="0.22" stroke-width="1"/>
<text x="477.10" y="223.70" font-family="Liberation Sans" font-size="6.9" font-weight="normal" text-anchor="start" fill="#111111" textLength="29.8" lengthAdjust="spacingAndGlyphs" stroke="#111111" stroke-width="0.14">ResNet34</text>
<line x1="459.3" y1="230.45" x2="472.3" y2="230.45" stroke="#17becf" stroke-opacity="0.22" stroke-width="1"/>
<text x="477.10" y="232.75" font-family="Liberation Sans" font-size="6.9" font-weight="normal" text-anchor="start" fill="#111111" textLength="33.7" lengthAdjust="spacingAndGlyphs" stroke="#111111" stroke-width="0.14">ResNet101</text>
<line x1="459.3" y1="239.50" x2="472.3" y2="239.50" stroke="#1f77b4" stroke-opacity="0.22" stroke-width="1"/>
<text x="477.10" y="241.80" font-family="Liberation Sans" font-size="6.9" font-weight="normal" text-anchor="start" fill="#111111" textLength="33.7" lengthAdjust="spacingAndGlyphs" stroke="#111111" stroke-width="0.14">ResNet152</text>
<line x1="459.3" y1="248.55" x2="472.3" y2="248.55" stroke="#ff7f0e" stroke-opacity="0.22" stroke-width="1"/>
<text x="477.10" y="250.85" font-family="Liberation Sans" font-size="6.9" font-weight="normal" text-anchor="start" fill="#111111" textLength="45.0" lengthAdjust="spacingAndGlyphs" stroke="#111111" stroke-width="0.14">EfficientNetB3</text>
<rect x="260.4" y="408.6" width="67.90000000000003" height="111.60000000000002" rx="1.5" fill="#ffffff" fill-opacity="0.8" stroke="#dcdcdc" stroke-width="0.7"/>
<line x1="263.4" y1="414.70" x2="276.4" y2="414.70" stroke="#1f77b4" stroke-opacity="0.22" stroke-width="1"/>
<text x="281.20" y="417.00" font-family="Liberation Sans" font-size="6.9" font-weight="normal" text-anchor="start" fill="#111111" textLength="12.9" lengthAdjust="spacingAndGlyphs" stroke="#111111" stroke-width="0.14">CNN</text>
<line x1="263.4" y1="423.75" x2="276.4" y2="423.75" stroke="#ff7f0e" stroke-opacity="0.22" stroke-width="1"/>
<text x="281.20" y="426.05" font-family="Liberation Sans" font-size="6.9" font-weight="normal" text-anchor="start" fill="#111111" textLength="21.0" lengthAdjust="spacingAndGlyphs" stroke="#111111" stroke-width="0.14">VGG16</text>
<line x1="263.4" y1="432.80" x2="276.4" y2="432.80" stroke="#2ca02c" stroke-opacity="0.22" stroke-width="1"/>
<text x="281.20" y="435.10" font-family="Liberation Sans" font-size="6.9" font-weight="normal" text-anchor="start" fill="#111111" textLength="21.0" lengthAdjust="spacingAndGlyphs" stroke="#111111" stroke-width="0.14">VGG19</text>
<line x1="263.4" y1="441.85" x2="276.4" y2="441.85" stroke="#d62728" stroke-width="1.4" stroke-dasharray="8,2.3,1.6,2.3"/>
<text x="281.20" y="444.15" font-family="Liberation Sans" font-size="6.9" font-weight="normal" text-anchor="start" fill="#111111" textLength="42.5" lengthAdjust="spacingAndGlyphs" stroke="#111111" stroke-width="0.14">DenseNet121</text>
<line x1="263.4" y1="450.90" x2="276.4" y2="450.90" stroke="#9467bd" stroke-width="1.4"/>
<text x="281.20" y="453.20" font-family="Liberation Sans" font-size="6.9" font-weight="normal" text-anchor="start" fill="#111111" textLength="42.8" lengthAdjust="spacingAndGlyphs" stroke="#111111" stroke-width="0.14">DenseNet169</text>
<line x1="263.4" y1="459.95" x2="276.4" y2="459.95" stroke="#8c564b" stroke-width="1.4" stroke-dasharray="4.8,2.3"/>
<text x="281.20" y="462.25" font-family="Liberation Sans" font-size="6.9" font-weight="normal" text-anchor="start" fill="#111111" textLength="42.5" lengthAdjust="spacingAndGlyphs" stroke="#111111" stroke-width="0.14">DenseNet201</text>
<line x1="263.4" y1="469.00" x2="276.4" y2="469.00" stroke="#e377c2" stroke-opacity="0.22" stroke-width="1"/>
<text x="281.20" y="471.30" font-family="Liberation Sans" font-size="6.9" font-weight="normal" text-anchor="start" fill="#111111" textLength="39.2" lengthAdjust="spacingAndGlyphs" stroke="#111111" stroke-width="0.14">MobileNetV1</text>
<line x1="263.4" y1="478.05" x2="276.4" y2="478.05" stroke="#7f7f7f" stroke-opacity="0.22" stroke-width="1"/>
<text x="281.20" y="480.35" font-family="Liberation Sans" font-size="6.9" font-weight="normal" text-anchor="start" fill="#111111" textLength="39.2" lengthAdjust="spacingAndGlyphs" stroke="#111111" stroke-width="0.14">MobileNetV2</text>
<line x1="263.4" y1="487.10" x2="276.4" y2="487.10" stroke="#bcbd22" stroke-opacity="0.22" stroke-width="1"/>
<text x="281.20" y="489.40" font-family="Liberation Sans" font-size="6.9" font-weight="normal" text-anchor="start" fill="#111111" textLength="29.8" lengthAdjust="spacingAndGlyphs" stroke="#111111" stroke-width="0.14">ResNet34</text>
<line x1="263.4" y1="496.15" x2="276.4" y2="496.15" stroke="#17becf" stroke-opacity="0.22" stroke-width="1"/>
<text x="281.20" y="498.45" font-family="Liberation Sans" font-size="6.9" font-weight="normal" text-anchor="start" fill="#111111" textLength="33.7" lengthAdjust="spacingAndGlyphs" stroke="#111111" stroke-width="0.14">ResNet101</text>
<line x1="263.4" y1="505.20" x2="276.4" y2="505.20" stroke="#1f77b4" stroke-opacity="0.22" stroke-width="1"/>
<text x="281.20" y="507.50" font-family="Liberation Sans" font-size="6.9" font-weight="normal" text-anchor="start" fill="#111111" textLength="33.7" lengthAdjust="spacingAndGlyphs" stroke="#111111" stroke-width="0.14">ResNet152</text>
<line x1="263.4" y1="514.25" x2="276.4" y2="514.25" stroke="#ff7f0e" stroke-opacity="0.22" stroke-width="1"/>
<text x="281.20" y="516.55" font-family="Liberation Sans" font-size="6.9" font-weight="normal" text-anchor="start" fill="#111111" textLength="45.0" lengthAdjust="spacingAndGlyphs" stroke="#111111" stroke-width="0.14">EfficientNetB3</text>
<rect x="456.5" y="408.6" width="67.0" height="112.39999999999998" rx="1.5" fill="#ffffff" fill-opacity="0.8" stroke="#dcdcdc" stroke-width="0.7"/>
<line x1="459.2" y1="414.70" x2="472.2" y2="414.70" stroke="#1f77b4" stroke-opacity="0.22" stroke-width="1"/>
<text x="477.00" y="417.00" font-family="Liberation Sans" font-size="6.9" font-weight="normal" text-anchor="start" fill="#111111" textLength="12.9" lengthAdjust="spacingAndGlyphs" stroke="#111111" stroke-width="0.14">CNN</text>
<line x1="459.2" y1="423.75" x2="472.2" y2="423.75" stroke="#ff7f0e" stroke-opacity="0.22" stroke-width="1"/>
<text x="477.00" y="426.05" font-family="Liberation Sans" font-size="6.9" font-weight="normal" text-anchor="start" fill="#111111" textLength="21.0" lengthAdjust="spacingAndGlyphs" stroke="#111111" stroke-width="0.14">VGG16</text>
<line x1="459.2" y1="432.80" x2="472.2" y2="432.80" stroke="#2ca02c" stroke-opacity="0.22" stroke-width="1"/>
<text x="477.00" y="435.10" font-family="Liberation Sans" font-size="6.9" font-weight="normal" text-anchor="start" fill="#111111" textLength="21.0" lengthAdjust="spacingAndGlyphs" stroke="#111111" stroke-width="0.14">VGG19</text>
<line x1="459.2" y1="441.85" x2="472.2" y2="441.85" stroke="#d62728" stroke-width="1.4" stroke-dasharray="8,2.3,1.6,2.3"/>
<text x="477.00" y="444.15" font-family="Liberation Sans" font-size="6.9" font-weight="normal" text-anchor="start" fill="#111111" textLength="42.5" lengthAdjust="spacingAndGlyphs" stroke="#111111" stroke-width="0.14">DenseNet121</text>
<line x1="459.2" y1="450.90" x2="472.2" y2="450.90" stroke="#9467bd" stroke-width="1.4"/>
<text x="477.00" y="453.20" font-family="Liberation Sans" font-size="6.9" font-weight="normal" text-anchor="start" fill="#111111" textLength="42.8" lengthAdjust="spacingAndGlyphs" stroke="#111111" stroke-width="0.14">DenseNet169</text>
<line x1="459.2" y1="459.95" x2="472.2" y2="459.95" stroke="#8c564b" stroke-width="1.4" stroke-dasharray="4.8,2.3"/>
<text x="477.00" y="462.25" font-family="Liberation Sans" font-size="6.9" font-weight="normal" text-anchor="start" fill="#111111" textLength="42.5" lengthAdjust="spacingAndGlyphs" stroke="#111111" stroke-width="0.14">DenseNet201</text>
<line x1="459.2" y1="469.00" x2="472.2" y2="469.00" stroke="#e377c2" stroke-opacity="0.22" stroke-width="1"/>
<text x="477.00" y="471.30" font-family="Liberation Sans" font-size="6.9" font-weight="normal" text-anchor="start" fill="#111111" textLength="39.2" lengthAdjust="spacingAndGlyphs" stroke="#111111" stroke-width="0.14">MobileNetV1</text>
<line x1="459.2" y1="478.05" x2="472.2" y2="478.05" stroke="#7f7f7f" stroke-opacity="0.22" stroke-width="1"/>
<text x="477.00" y="480.35" font-family="Liberation Sans" font-size="6.9" font-weight="normal" text-anchor="start" fill="#111111" textLength="39.2" lengthAdjust="spacingAndGlyphs" stroke="#111111" stroke-width="0.14">MobileNetV2</text>
<line x1="459.2" y1="487.10" x2="472.2" y2="487.10" stroke="#bcbd22" stroke-opacity="0.22" stroke-width="1"/>
<text x="477.00" y="489.40" font-family="Liberation Sans" font-size="6.9" font-weight="normal" text-anchor="start" fill="#111111" textLength="29.8" lengthAdjust="spacingAndGlyphs" stroke="#111111" stroke-width="0.14">ResNet34</text>
<line x1="459.2" y1="496.15" x2="472.2" y2="496.15" stroke="#17becf" stroke-opacity="0.22" stroke-width="1"/>
<text x="477.00" y="498.45" font-family="Liberation Sans" font-size="6.9" font-weight="normal" text-anchor="start" fill="#111111" textLength="33.7" lengthAdjust="spacingAndGlyphs" stroke="#111111" stroke-width="0.14">ResNet101</text>
<line x1="459.2" y1="505.20" x2="472.2" y2="505.20" stroke="#1f77b4" stroke-opacity="0.22" stroke-width="1"/>
<text x="477.00" y="507.50" font-family="Liberation Sans" font-size="6.9" font-weight="normal" text-anchor="start" fill="#111111" textLength="33.7" lengthAdjust="spacingAndGlyphs" stroke="#111111" stroke-width="0.14">ResNet152</text>
<line x1="459.2" y1="514.25" x2="472.2" y2="514.25" stroke="#ff7f0e" stroke-opacity="0.22" stroke-width="1"/>
<text x="477.00" y="516.55" font-family="Liberation Sans" font-size="6.9" font-weight="normal" text-anchor="start" fill="#111111" textLength="45.0" lengthAdjust="spacingAndGlyphs" stroke="#111111" stroke-width="0.14">EfficientNetB3</text>
</svg>
</body></html>
